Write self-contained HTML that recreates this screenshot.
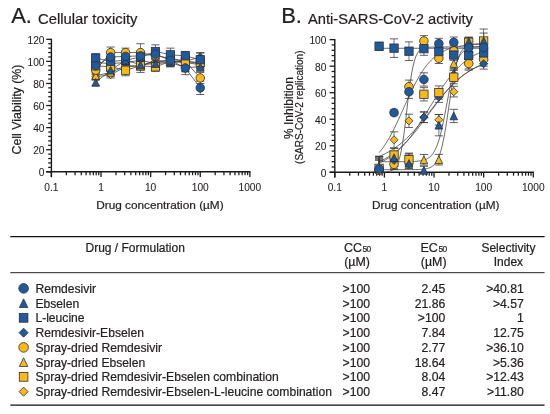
<!DOCTYPE html>
<html><head><meta charset="utf-8"><style>
html,body{margin:0;padding:0;background:#fff;overflow:hidden;width:550px;height:414px;}
svg{display:block;font-family:"Liberation Sans", sans-serif;}
text{-webkit-font-smoothing:antialiased;stroke:#231f20;stroke-width:0.22px;}
body{will-change:transform;}
</style></head><body>
<svg width="550" height="414" viewBox="0 0 550 414">
<rect width="550" height="414" fill="#fff"/>
<line x1="51.40" y1="38.70" x2="51.40" y2="177.10" stroke="#1a1a1a" stroke-width="1.4" />
<line x1="46.20" y1="171.80" x2="250.48" y2="171.80" stroke="#1a1a1a" stroke-width="1.4" />
<line x1="46.20" y1="171.80" x2="51.40" y2="171.80" stroke="#1a1a1a" stroke-width="1.3" />
<text x="44.50" y="176.20" font-size="10.2" text-anchor="end" fill="#231f20" style="stroke-width:0.08px">0</text>
<line x1="48.20" y1="167.38" x2="51.40" y2="167.38" stroke="#1a1a1a" stroke-width="1.25" />
<line x1="48.20" y1="162.97" x2="51.40" y2="162.97" stroke="#1a1a1a" stroke-width="1.25" />
<line x1="48.20" y1="158.55" x2="51.40" y2="158.55" stroke="#1a1a1a" stroke-width="1.25" />
<line x1="48.20" y1="154.13" x2="51.40" y2="154.13" stroke="#1a1a1a" stroke-width="1.25" />
<line x1="46.20" y1="149.72" x2="51.40" y2="149.72" stroke="#1a1a1a" stroke-width="1.3" />
<text x="44.50" y="154.12" font-size="10.2" text-anchor="end" fill="#231f20" style="stroke-width:0.08px">20</text>
<line x1="48.20" y1="145.30" x2="51.40" y2="145.30" stroke="#1a1a1a" stroke-width="1.25" />
<line x1="48.20" y1="140.88" x2="51.40" y2="140.88" stroke="#1a1a1a" stroke-width="1.25" />
<line x1="48.20" y1="136.47" x2="51.40" y2="136.47" stroke="#1a1a1a" stroke-width="1.25" />
<line x1="48.20" y1="132.05" x2="51.40" y2="132.05" stroke="#1a1a1a" stroke-width="1.25" />
<line x1="46.20" y1="127.63" x2="51.40" y2="127.63" stroke="#1a1a1a" stroke-width="1.3" />
<text x="44.50" y="132.03" font-size="10.2" text-anchor="end" fill="#231f20" style="stroke-width:0.08px">40</text>
<line x1="48.20" y1="123.22" x2="51.40" y2="123.22" stroke="#1a1a1a" stroke-width="1.25" />
<line x1="48.20" y1="118.80" x2="51.40" y2="118.80" stroke="#1a1a1a" stroke-width="1.25" />
<line x1="48.20" y1="114.38" x2="51.40" y2="114.38" stroke="#1a1a1a" stroke-width="1.25" />
<line x1="48.20" y1="109.97" x2="51.40" y2="109.97" stroke="#1a1a1a" stroke-width="1.25" />
<line x1="46.20" y1="105.55" x2="51.40" y2="105.55" stroke="#1a1a1a" stroke-width="1.3" />
<text x="44.50" y="109.95" font-size="10.2" text-anchor="end" fill="#231f20" style="stroke-width:0.08px">60</text>
<line x1="48.20" y1="101.13" x2="51.40" y2="101.13" stroke="#1a1a1a" stroke-width="1.25" />
<line x1="48.20" y1="96.72" x2="51.40" y2="96.72" stroke="#1a1a1a" stroke-width="1.25" />
<line x1="48.20" y1="92.30" x2="51.40" y2="92.30" stroke="#1a1a1a" stroke-width="1.25" />
<line x1="48.20" y1="87.88" x2="51.40" y2="87.88" stroke="#1a1a1a" stroke-width="1.25" />
<line x1="46.20" y1="83.47" x2="51.40" y2="83.47" stroke="#1a1a1a" stroke-width="1.3" />
<text x="44.50" y="87.87" font-size="10.2" text-anchor="end" fill="#231f20" style="stroke-width:0.08px">80</text>
<line x1="48.20" y1="79.05" x2="51.40" y2="79.05" stroke="#1a1a1a" stroke-width="1.25" />
<line x1="48.20" y1="74.63" x2="51.40" y2="74.63" stroke="#1a1a1a" stroke-width="1.25" />
<line x1="48.20" y1="70.22" x2="51.40" y2="70.22" stroke="#1a1a1a" stroke-width="1.25" />
<line x1="48.20" y1="65.80" x2="51.40" y2="65.80" stroke="#1a1a1a" stroke-width="1.25" />
<line x1="46.20" y1="61.38" x2="51.40" y2="61.38" stroke="#1a1a1a" stroke-width="1.3" />
<text x="44.50" y="65.78" font-size="10.2" text-anchor="end" fill="#231f20" style="stroke-width:0.08px">100</text>
<line x1="48.20" y1="56.97" x2="51.40" y2="56.97" stroke="#1a1a1a" stroke-width="1.25" />
<line x1="48.20" y1="52.55" x2="51.40" y2="52.55" stroke="#1a1a1a" stroke-width="1.25" />
<line x1="48.20" y1="48.13" x2="51.40" y2="48.13" stroke="#1a1a1a" stroke-width="1.25" />
<line x1="48.20" y1="43.72" x2="51.40" y2="43.72" stroke="#1a1a1a" stroke-width="1.25" />
<line x1="46.20" y1="39.30" x2="51.40" y2="39.30" stroke="#1a1a1a" stroke-width="1.3" />
<text x="44.50" y="43.70" font-size="10.2" text-anchor="end" fill="#231f20" style="stroke-width:0.08px">120</text>
<line x1="51.40" y1="171.80" x2="51.40" y2="177.10" stroke="#1a1a1a" stroke-width="1.3" />
<line x1="66.34" y1="171.80" x2="66.34" y2="175.20" stroke="#1a1a1a" stroke-width="1.25" />
<line x1="75.07" y1="171.80" x2="75.07" y2="175.20" stroke="#1a1a1a" stroke-width="1.25" />
<line x1="81.27" y1="171.80" x2="81.27" y2="175.20" stroke="#1a1a1a" stroke-width="1.25" />
<line x1="86.08" y1="171.80" x2="86.08" y2="175.20" stroke="#1a1a1a" stroke-width="1.25" />
<line x1="90.01" y1="171.80" x2="90.01" y2="175.20" stroke="#1a1a1a" stroke-width="1.25" />
<line x1="93.33" y1="171.80" x2="93.33" y2="175.20" stroke="#1a1a1a" stroke-width="1.25" />
<line x1="96.21" y1="171.80" x2="96.21" y2="175.20" stroke="#1a1a1a" stroke-width="1.25" />
<line x1="98.75" y1="171.80" x2="98.75" y2="175.20" stroke="#1a1a1a" stroke-width="1.25" />
<line x1="101.02" y1="171.80" x2="101.02" y2="177.10" stroke="#1a1a1a" stroke-width="1.3" />
<line x1="115.96" y1="171.80" x2="115.96" y2="175.20" stroke="#1a1a1a" stroke-width="1.25" />
<line x1="124.69" y1="171.80" x2="124.69" y2="175.20" stroke="#1a1a1a" stroke-width="1.25" />
<line x1="130.89" y1="171.80" x2="130.89" y2="175.20" stroke="#1a1a1a" stroke-width="1.25" />
<line x1="135.70" y1="171.80" x2="135.70" y2="175.20" stroke="#1a1a1a" stroke-width="1.25" />
<line x1="139.63" y1="171.80" x2="139.63" y2="175.20" stroke="#1a1a1a" stroke-width="1.25" />
<line x1="142.95" y1="171.80" x2="142.95" y2="175.20" stroke="#1a1a1a" stroke-width="1.25" />
<line x1="145.83" y1="171.80" x2="145.83" y2="175.20" stroke="#1a1a1a" stroke-width="1.25" />
<line x1="148.37" y1="171.80" x2="148.37" y2="175.20" stroke="#1a1a1a" stroke-width="1.25" />
<line x1="150.64" y1="171.80" x2="150.64" y2="177.10" stroke="#1a1a1a" stroke-width="1.3" />
<line x1="165.58" y1="171.80" x2="165.58" y2="175.20" stroke="#1a1a1a" stroke-width="1.25" />
<line x1="174.31" y1="171.80" x2="174.31" y2="175.20" stroke="#1a1a1a" stroke-width="1.25" />
<line x1="180.51" y1="171.80" x2="180.51" y2="175.20" stroke="#1a1a1a" stroke-width="1.25" />
<line x1="185.32" y1="171.80" x2="185.32" y2="175.20" stroke="#1a1a1a" stroke-width="1.25" />
<line x1="189.25" y1="171.80" x2="189.25" y2="175.20" stroke="#1a1a1a" stroke-width="1.25" />
<line x1="192.57" y1="171.80" x2="192.57" y2="175.20" stroke="#1a1a1a" stroke-width="1.25" />
<line x1="195.45" y1="171.80" x2="195.45" y2="175.20" stroke="#1a1a1a" stroke-width="1.25" />
<line x1="197.99" y1="171.80" x2="197.99" y2="175.20" stroke="#1a1a1a" stroke-width="1.25" />
<line x1="200.26" y1="171.80" x2="200.26" y2="177.10" stroke="#1a1a1a" stroke-width="1.3" />
<line x1="215.20" y1="171.80" x2="215.20" y2="175.20" stroke="#1a1a1a" stroke-width="1.25" />
<line x1="223.93" y1="171.80" x2="223.93" y2="175.20" stroke="#1a1a1a" stroke-width="1.25" />
<line x1="230.13" y1="171.80" x2="230.13" y2="175.20" stroke="#1a1a1a" stroke-width="1.25" />
<line x1="234.94" y1="171.80" x2="234.94" y2="175.20" stroke="#1a1a1a" stroke-width="1.25" />
<line x1="238.87" y1="171.80" x2="238.87" y2="175.20" stroke="#1a1a1a" stroke-width="1.25" />
<line x1="242.19" y1="171.80" x2="242.19" y2="175.20" stroke="#1a1a1a" stroke-width="1.25" />
<line x1="245.07" y1="171.80" x2="245.07" y2="175.20" stroke="#1a1a1a" stroke-width="1.25" />
<line x1="247.61" y1="171.80" x2="247.61" y2="175.20" stroke="#1a1a1a" stroke-width="1.25" />
<line x1="249.88" y1="171.80" x2="249.88" y2="177.10" stroke="#1a1a1a" stroke-width="1.3" />
<text x="51.40" y="190.80" font-size="10.2" text-anchor="middle" fill="#231f20" style="stroke-width:0.08px">0.1</text>
<text x="101.02" y="190.80" font-size="10.2" text-anchor="middle" fill="#231f20" style="stroke-width:0.08px">1</text>
<text x="150.64" y="190.80" font-size="10.2" text-anchor="middle" fill="#231f20" style="stroke-width:0.08px">10</text>
<text x="200.26" y="190.80" font-size="10.2" text-anchor="middle" fill="#231f20" style="stroke-width:0.08px">100</text>
<text x="249.88" y="190.80" font-size="10.2" text-anchor="middle" fill="#231f20" style="stroke-width:0.08px">1000</text>
<text x="11.20" y="23.40" font-size="22" text-anchor="start" fill="#231f20" >A.</text>
<text x="38.00" y="23.90" font-size="14.8" text-anchor="start" fill="#231f20" >Cellular toxicity</text>
<text x="96.20" y="208.60" font-size="11.8" text-anchor="start" fill="#231f20" >Drug concentration (µM)</text>
<text transform="translate(21.3,109.5) rotate(-90)" font-size="12.4" text-anchor="middle" fill="#231f20">Cell Viability (%)</text>
<line x1="334.80" y1="39.05" x2="334.80" y2="177.60" stroke="#1a1a1a" stroke-width="1.4" />
<line x1="329.60" y1="172.30" x2="533.88" y2="172.30" stroke="#1a1a1a" stroke-width="1.4" />
<line x1="329.60" y1="172.30" x2="334.80" y2="172.30" stroke="#1a1a1a" stroke-width="1.3" />
<text x="326.40" y="176.70" font-size="10.2" text-anchor="end" fill="#231f20" style="stroke-width:0.08px">0</text>
<line x1="331.60" y1="166.99" x2="334.80" y2="166.99" stroke="#1a1a1a" stroke-width="1.25" />
<line x1="331.60" y1="161.69" x2="334.80" y2="161.69" stroke="#1a1a1a" stroke-width="1.25" />
<line x1="331.60" y1="156.38" x2="334.80" y2="156.38" stroke="#1a1a1a" stroke-width="1.25" />
<line x1="331.60" y1="151.08" x2="334.80" y2="151.08" stroke="#1a1a1a" stroke-width="1.25" />
<line x1="329.60" y1="145.77" x2="334.80" y2="145.77" stroke="#1a1a1a" stroke-width="1.3" />
<text x="326.40" y="150.17" font-size="10.2" text-anchor="end" fill="#231f20" style="stroke-width:0.08px">20</text>
<line x1="331.60" y1="140.46" x2="334.80" y2="140.46" stroke="#1a1a1a" stroke-width="1.25" />
<line x1="331.60" y1="135.16" x2="334.80" y2="135.16" stroke="#1a1a1a" stroke-width="1.25" />
<line x1="331.60" y1="129.85" x2="334.80" y2="129.85" stroke="#1a1a1a" stroke-width="1.25" />
<line x1="331.60" y1="124.55" x2="334.80" y2="124.55" stroke="#1a1a1a" stroke-width="1.25" />
<line x1="329.60" y1="119.24" x2="334.80" y2="119.24" stroke="#1a1a1a" stroke-width="1.3" />
<text x="326.40" y="123.64" font-size="10.2" text-anchor="end" fill="#231f20" style="stroke-width:0.08px">40</text>
<line x1="331.60" y1="113.93" x2="334.80" y2="113.93" stroke="#1a1a1a" stroke-width="1.25" />
<line x1="331.60" y1="108.63" x2="334.80" y2="108.63" stroke="#1a1a1a" stroke-width="1.25" />
<line x1="331.60" y1="103.32" x2="334.80" y2="103.32" stroke="#1a1a1a" stroke-width="1.25" />
<line x1="331.60" y1="98.02" x2="334.80" y2="98.02" stroke="#1a1a1a" stroke-width="1.25" />
<line x1="329.60" y1="92.71" x2="334.80" y2="92.71" stroke="#1a1a1a" stroke-width="1.3" />
<text x="326.40" y="97.11" font-size="10.2" text-anchor="end" fill="#231f20" style="stroke-width:0.08px">60</text>
<line x1="331.60" y1="87.40" x2="334.80" y2="87.40" stroke="#1a1a1a" stroke-width="1.25" />
<line x1="331.60" y1="82.10" x2="334.80" y2="82.10" stroke="#1a1a1a" stroke-width="1.25" />
<line x1="331.60" y1="76.79" x2="334.80" y2="76.79" stroke="#1a1a1a" stroke-width="1.25" />
<line x1="331.60" y1="71.49" x2="334.80" y2="71.49" stroke="#1a1a1a" stroke-width="1.25" />
<line x1="329.60" y1="66.18" x2="334.80" y2="66.18" stroke="#1a1a1a" stroke-width="1.3" />
<text x="326.40" y="70.58" font-size="10.2" text-anchor="end" fill="#231f20" style="stroke-width:0.08px">80</text>
<line x1="331.60" y1="60.87" x2="334.80" y2="60.87" stroke="#1a1a1a" stroke-width="1.25" />
<line x1="331.60" y1="55.57" x2="334.80" y2="55.57" stroke="#1a1a1a" stroke-width="1.25" />
<line x1="331.60" y1="50.26" x2="334.80" y2="50.26" stroke="#1a1a1a" stroke-width="1.25" />
<line x1="331.60" y1="44.96" x2="334.80" y2="44.96" stroke="#1a1a1a" stroke-width="1.25" />
<line x1="329.60" y1="39.65" x2="334.80" y2="39.65" stroke="#1a1a1a" stroke-width="1.3" />
<text x="326.40" y="44.05" font-size="10.2" text-anchor="end" fill="#231f20" style="stroke-width:0.08px">100</text>
<line x1="334.80" y1="172.30" x2="334.80" y2="177.60" stroke="#1a1a1a" stroke-width="1.3" />
<line x1="349.74" y1="172.30" x2="349.74" y2="175.70" stroke="#1a1a1a" stroke-width="1.25" />
<line x1="358.47" y1="172.30" x2="358.47" y2="175.70" stroke="#1a1a1a" stroke-width="1.25" />
<line x1="364.67" y1="172.30" x2="364.67" y2="175.70" stroke="#1a1a1a" stroke-width="1.25" />
<line x1="369.48" y1="172.30" x2="369.48" y2="175.70" stroke="#1a1a1a" stroke-width="1.25" />
<line x1="373.41" y1="172.30" x2="373.41" y2="175.70" stroke="#1a1a1a" stroke-width="1.25" />
<line x1="376.73" y1="172.30" x2="376.73" y2="175.70" stroke="#1a1a1a" stroke-width="1.25" />
<line x1="379.61" y1="172.30" x2="379.61" y2="175.70" stroke="#1a1a1a" stroke-width="1.25" />
<line x1="382.15" y1="172.30" x2="382.15" y2="175.70" stroke="#1a1a1a" stroke-width="1.25" />
<line x1="384.42" y1="172.30" x2="384.42" y2="177.60" stroke="#1a1a1a" stroke-width="1.3" />
<line x1="399.36" y1="172.30" x2="399.36" y2="175.70" stroke="#1a1a1a" stroke-width="1.25" />
<line x1="408.09" y1="172.30" x2="408.09" y2="175.70" stroke="#1a1a1a" stroke-width="1.25" />
<line x1="414.29" y1="172.30" x2="414.29" y2="175.70" stroke="#1a1a1a" stroke-width="1.25" />
<line x1="419.10" y1="172.30" x2="419.10" y2="175.70" stroke="#1a1a1a" stroke-width="1.25" />
<line x1="423.03" y1="172.30" x2="423.03" y2="175.70" stroke="#1a1a1a" stroke-width="1.25" />
<line x1="426.35" y1="172.30" x2="426.35" y2="175.70" stroke="#1a1a1a" stroke-width="1.25" />
<line x1="429.23" y1="172.30" x2="429.23" y2="175.70" stroke="#1a1a1a" stroke-width="1.25" />
<line x1="431.77" y1="172.30" x2="431.77" y2="175.70" stroke="#1a1a1a" stroke-width="1.25" />
<line x1="434.04" y1="172.30" x2="434.04" y2="177.60" stroke="#1a1a1a" stroke-width="1.3" />
<line x1="448.98" y1="172.30" x2="448.98" y2="175.70" stroke="#1a1a1a" stroke-width="1.25" />
<line x1="457.71" y1="172.30" x2="457.71" y2="175.70" stroke="#1a1a1a" stroke-width="1.25" />
<line x1="463.91" y1="172.30" x2="463.91" y2="175.70" stroke="#1a1a1a" stroke-width="1.25" />
<line x1="468.72" y1="172.30" x2="468.72" y2="175.70" stroke="#1a1a1a" stroke-width="1.25" />
<line x1="472.65" y1="172.30" x2="472.65" y2="175.70" stroke="#1a1a1a" stroke-width="1.25" />
<line x1="475.97" y1="172.30" x2="475.97" y2="175.70" stroke="#1a1a1a" stroke-width="1.25" />
<line x1="478.85" y1="172.30" x2="478.85" y2="175.70" stroke="#1a1a1a" stroke-width="1.25" />
<line x1="481.39" y1="172.30" x2="481.39" y2="175.70" stroke="#1a1a1a" stroke-width="1.25" />
<line x1="483.66" y1="172.30" x2="483.66" y2="177.60" stroke="#1a1a1a" stroke-width="1.3" />
<line x1="498.60" y1="172.30" x2="498.60" y2="175.70" stroke="#1a1a1a" stroke-width="1.25" />
<line x1="507.33" y1="172.30" x2="507.33" y2="175.70" stroke="#1a1a1a" stroke-width="1.25" />
<line x1="513.53" y1="172.30" x2="513.53" y2="175.70" stroke="#1a1a1a" stroke-width="1.25" />
<line x1="518.34" y1="172.30" x2="518.34" y2="175.70" stroke="#1a1a1a" stroke-width="1.25" />
<line x1="522.27" y1="172.30" x2="522.27" y2="175.70" stroke="#1a1a1a" stroke-width="1.25" />
<line x1="525.59" y1="172.30" x2="525.59" y2="175.70" stroke="#1a1a1a" stroke-width="1.25" />
<line x1="528.47" y1="172.30" x2="528.47" y2="175.70" stroke="#1a1a1a" stroke-width="1.25" />
<line x1="531.01" y1="172.30" x2="531.01" y2="175.70" stroke="#1a1a1a" stroke-width="1.25" />
<line x1="533.28" y1="172.30" x2="533.28" y2="177.60" stroke="#1a1a1a" stroke-width="1.3" />
<text x="334.80" y="190.80" font-size="10.2" text-anchor="middle" fill="#231f20" style="stroke-width:0.08px">0.1</text>
<text x="384.42" y="190.80" font-size="10.2" text-anchor="middle" fill="#231f20" style="stroke-width:0.08px">1</text>
<text x="434.04" y="190.80" font-size="10.2" text-anchor="middle" fill="#231f20" style="stroke-width:0.08px">10</text>
<text x="483.66" y="190.80" font-size="10.2" text-anchor="middle" fill="#231f20" style="stroke-width:0.08px">100</text>
<text x="533.28" y="190.80" font-size="10.2" text-anchor="middle" fill="#231f20" style="stroke-width:0.08px">1000</text>
<text x="281.20" y="23.40" font-size="22" text-anchor="start" fill="#231f20" >B.</text>
<text x="308.00" y="23.90" font-size="14.7" text-anchor="start" fill="#231f20" >Anti-SARS-CoV-2 activity</text>
<text x="372.00" y="208.60" font-size="11.8" text-anchor="start" fill="#231f20" >Drug concentration (µM)</text>
<text transform="translate(292.6,108.1) rotate(-90)" font-size="12" text-anchor="middle" fill="#231f20">% Inhibition</text>
<text transform="translate(302.6,107.2) rotate(-90)" font-size="10" text-anchor="middle" fill="#231f20">(SARS-CoV-2 replication)</text>
<polyline points="95.70,76.84 110.64,74.63 125.57,66.90 140.51,65.80 155.45,61.38 170.39,62.49 185.32,61.38 200.26,63.59" fill="none" stroke="#3a3a3a" stroke-width="0.75"/>
<polyline points="95.70,75.74 110.64,72.43 125.57,65.80 140.51,65.80 155.45,60.28 170.39,61.38 185.32,62.49 200.26,64.70" fill="none" stroke="#3a3a3a" stroke-width="0.75"/>
<polyline points="95.70,70.22 110.64,52.55 125.57,52.55 140.51,52.55 155.45,55.86 170.39,58.07 185.32,61.38 200.26,77.95" fill="none" stroke="#3a3a3a" stroke-width="0.75"/>
<polyline points="95.70,62.49 110.64,63.59 125.57,62.49 140.51,60.28 155.45,63.59 170.39,59.17 185.32,61.38 200.26,56.97" fill="none" stroke="#3a3a3a" stroke-width="0.75"/>
<polyline points="95.70,65.80 110.64,66.90 125.57,70.22 140.51,65.80 155.45,66.90 170.39,61.38 185.32,61.38 200.26,62.49" fill="none" stroke="#3a3a3a" stroke-width="0.75"/>
<polyline points="95.70,58.07 110.64,61.38 125.57,60.28 140.51,56.97 155.45,51.45 170.39,54.76 185.32,55.86 200.26,59.73" fill="none" stroke="#3a3a3a" stroke-width="0.75"/>
<polyline points="95.70,82.36 110.64,70.22 125.57,60.28 140.51,64.70 155.45,63.59 170.39,62.49 185.32,67.46 200.26,66.90" fill="none" stroke="#3a3a3a" stroke-width="0.75"/>
<polyline points="95.70,65.80 110.64,56.97 125.57,56.41 140.51,55.86 155.45,54.21 170.39,60.28 185.32,68.01 200.26,87.88" fill="none" stroke="#3a3a3a" stroke-width="0.75"/>
<line x1="95.70" y1="73.53" x2="95.70" y2="80.15" stroke="#3a3a3a" stroke-width="0.7" />
<line x1="91.60" y1="73.53" x2="99.80" y2="73.53" stroke="#3a3a3a" stroke-width="0.8" />
<line x1="91.60" y1="80.15" x2="99.80" y2="80.15" stroke="#3a3a3a" stroke-width="0.8" />
<line x1="110.64" y1="71.32" x2="110.64" y2="77.95" stroke="#3a3a3a" stroke-width="0.7" />
<line x1="106.54" y1="71.32" x2="114.74" y2="71.32" stroke="#3a3a3a" stroke-width="0.8" />
<line x1="106.54" y1="77.95" x2="114.74" y2="77.95" stroke="#3a3a3a" stroke-width="0.8" />
<line x1="125.57" y1="63.59" x2="125.57" y2="70.22" stroke="#3a3a3a" stroke-width="0.7" />
<line x1="121.47" y1="63.59" x2="129.67" y2="63.59" stroke="#3a3a3a" stroke-width="0.8" />
<line x1="121.47" y1="70.22" x2="129.67" y2="70.22" stroke="#3a3a3a" stroke-width="0.8" />
<line x1="140.51" y1="62.49" x2="140.51" y2="69.11" stroke="#3a3a3a" stroke-width="0.7" />
<line x1="136.41" y1="62.49" x2="144.61" y2="62.49" stroke="#3a3a3a" stroke-width="0.8" />
<line x1="136.41" y1="69.11" x2="144.61" y2="69.11" stroke="#3a3a3a" stroke-width="0.8" />
<line x1="155.45" y1="58.07" x2="155.45" y2="64.70" stroke="#3a3a3a" stroke-width="0.7" />
<line x1="151.35" y1="58.07" x2="159.55" y2="58.07" stroke="#3a3a3a" stroke-width="0.8" />
<line x1="151.35" y1="64.70" x2="159.55" y2="64.70" stroke="#3a3a3a" stroke-width="0.8" />
<line x1="170.39" y1="59.17" x2="170.39" y2="65.80" stroke="#3a3a3a" stroke-width="0.7" />
<line x1="166.29" y1="59.17" x2="174.49" y2="59.17" stroke="#3a3a3a" stroke-width="0.8" />
<line x1="166.29" y1="65.80" x2="174.49" y2="65.80" stroke="#3a3a3a" stroke-width="0.8" />
<line x1="185.32" y1="58.07" x2="185.32" y2="64.70" stroke="#3a3a3a" stroke-width="0.7" />
<line x1="181.22" y1="58.07" x2="189.42" y2="58.07" stroke="#3a3a3a" stroke-width="0.8" />
<line x1="181.22" y1="64.70" x2="189.42" y2="64.70" stroke="#3a3a3a" stroke-width="0.8" />
<line x1="200.26" y1="60.28" x2="200.26" y2="66.90" stroke="#3a3a3a" stroke-width="0.7" />
<line x1="196.16" y1="60.28" x2="204.36" y2="60.28" stroke="#3a3a3a" stroke-width="0.8" />
<line x1="196.16" y1="66.90" x2="204.36" y2="66.90" stroke="#3a3a3a" stroke-width="0.8" />
<line x1="95.70" y1="72.43" x2="95.70" y2="79.05" stroke="#3a3a3a" stroke-width="0.7" />
<line x1="91.60" y1="72.43" x2="99.80" y2="72.43" stroke="#3a3a3a" stroke-width="0.8" />
<line x1="91.60" y1="79.05" x2="99.80" y2="79.05" stroke="#3a3a3a" stroke-width="0.8" />
<line x1="110.64" y1="69.11" x2="110.64" y2="75.74" stroke="#3a3a3a" stroke-width="0.7" />
<line x1="106.54" y1="69.11" x2="114.74" y2="69.11" stroke="#3a3a3a" stroke-width="0.8" />
<line x1="106.54" y1="75.74" x2="114.74" y2="75.74" stroke="#3a3a3a" stroke-width="0.8" />
<line x1="125.57" y1="61.38" x2="125.57" y2="70.22" stroke="#3a3a3a" stroke-width="0.7" />
<line x1="121.47" y1="61.38" x2="129.67" y2="61.38" stroke="#3a3a3a" stroke-width="0.8" />
<line x1="121.47" y1="70.22" x2="129.67" y2="70.22" stroke="#3a3a3a" stroke-width="0.8" />
<line x1="140.51" y1="61.38" x2="140.51" y2="70.22" stroke="#3a3a3a" stroke-width="0.7" />
<line x1="136.41" y1="61.38" x2="144.61" y2="61.38" stroke="#3a3a3a" stroke-width="0.8" />
<line x1="136.41" y1="70.22" x2="144.61" y2="70.22" stroke="#3a3a3a" stroke-width="0.8" />
<line x1="155.45" y1="55.86" x2="155.45" y2="64.70" stroke="#3a3a3a" stroke-width="0.7" />
<line x1="151.35" y1="55.86" x2="159.55" y2="55.86" stroke="#3a3a3a" stroke-width="0.8" />
<line x1="151.35" y1="64.70" x2="159.55" y2="64.70" stroke="#3a3a3a" stroke-width="0.8" />
<line x1="170.39" y1="56.97" x2="170.39" y2="65.80" stroke="#3a3a3a" stroke-width="0.7" />
<line x1="166.29" y1="56.97" x2="174.49" y2="56.97" stroke="#3a3a3a" stroke-width="0.8" />
<line x1="166.29" y1="65.80" x2="174.49" y2="65.80" stroke="#3a3a3a" stroke-width="0.8" />
<line x1="185.32" y1="58.07" x2="185.32" y2="66.90" stroke="#3a3a3a" stroke-width="0.7" />
<line x1="181.22" y1="58.07" x2="189.42" y2="58.07" stroke="#3a3a3a" stroke-width="0.8" />
<line x1="181.22" y1="66.90" x2="189.42" y2="66.90" stroke="#3a3a3a" stroke-width="0.8" />
<line x1="200.26" y1="60.28" x2="200.26" y2="69.11" stroke="#3a3a3a" stroke-width="0.7" />
<line x1="196.16" y1="60.28" x2="204.36" y2="60.28" stroke="#3a3a3a" stroke-width="0.8" />
<line x1="196.16" y1="69.11" x2="204.36" y2="69.11" stroke="#3a3a3a" stroke-width="0.8" />
<line x1="95.70" y1="65.80" x2="95.70" y2="74.63" stroke="#3a3a3a" stroke-width="0.7" />
<line x1="91.60" y1="65.80" x2="99.80" y2="65.80" stroke="#3a3a3a" stroke-width="0.8" />
<line x1="91.60" y1="74.63" x2="99.80" y2="74.63" stroke="#3a3a3a" stroke-width="0.8" />
<line x1="110.64" y1="47.03" x2="110.64" y2="58.07" stroke="#3a3a3a" stroke-width="0.7" />
<line x1="106.54" y1="47.03" x2="114.74" y2="47.03" stroke="#3a3a3a" stroke-width="0.8" />
<line x1="106.54" y1="58.07" x2="114.74" y2="58.07" stroke="#3a3a3a" stroke-width="0.8" />
<line x1="125.57" y1="48.13" x2="125.57" y2="56.97" stroke="#3a3a3a" stroke-width="0.7" />
<line x1="121.47" y1="48.13" x2="129.67" y2="48.13" stroke="#3a3a3a" stroke-width="0.8" />
<line x1="121.47" y1="56.97" x2="129.67" y2="56.97" stroke="#3a3a3a" stroke-width="0.8" />
<line x1="140.51" y1="43.72" x2="140.51" y2="61.38" stroke="#3a3a3a" stroke-width="0.7" />
<line x1="136.41" y1="43.72" x2="144.61" y2="43.72" stroke="#3a3a3a" stroke-width="0.8" />
<line x1="136.41" y1="61.38" x2="144.61" y2="61.38" stroke="#3a3a3a" stroke-width="0.8" />
<line x1="155.45" y1="50.34" x2="155.45" y2="61.38" stroke="#3a3a3a" stroke-width="0.7" />
<line x1="151.35" y1="50.34" x2="159.55" y2="50.34" stroke="#3a3a3a" stroke-width="0.8" />
<line x1="151.35" y1="61.38" x2="159.55" y2="61.38" stroke="#3a3a3a" stroke-width="0.8" />
<line x1="170.39" y1="52.55" x2="170.39" y2="63.59" stroke="#3a3a3a" stroke-width="0.7" />
<line x1="166.29" y1="52.55" x2="174.49" y2="52.55" stroke="#3a3a3a" stroke-width="0.8" />
<line x1="166.29" y1="63.59" x2="174.49" y2="63.59" stroke="#3a3a3a" stroke-width="0.8" />
<line x1="185.32" y1="56.97" x2="185.32" y2="65.80" stroke="#3a3a3a" stroke-width="0.7" />
<line x1="181.22" y1="56.97" x2="189.42" y2="56.97" stroke="#3a3a3a" stroke-width="0.8" />
<line x1="181.22" y1="65.80" x2="189.42" y2="65.80" stroke="#3a3a3a" stroke-width="0.8" />
<line x1="200.26" y1="72.43" x2="200.26" y2="83.47" stroke="#3a3a3a" stroke-width="0.7" />
<line x1="196.16" y1="72.43" x2="204.36" y2="72.43" stroke="#3a3a3a" stroke-width="0.8" />
<line x1="196.16" y1="83.47" x2="204.36" y2="83.47" stroke="#3a3a3a" stroke-width="0.8" />
<line x1="95.70" y1="59.17" x2="95.70" y2="65.80" stroke="#3a3a3a" stroke-width="0.7" />
<line x1="91.60" y1="59.17" x2="99.80" y2="59.17" stroke="#3a3a3a" stroke-width="0.8" />
<line x1="91.60" y1="65.80" x2="99.80" y2="65.80" stroke="#3a3a3a" stroke-width="0.8" />
<line x1="110.64" y1="60.28" x2="110.64" y2="66.90" stroke="#3a3a3a" stroke-width="0.7" />
<line x1="106.54" y1="60.28" x2="114.74" y2="60.28" stroke="#3a3a3a" stroke-width="0.8" />
<line x1="106.54" y1="66.90" x2="114.74" y2="66.90" stroke="#3a3a3a" stroke-width="0.8" />
<line x1="125.57" y1="59.17" x2="125.57" y2="65.80" stroke="#3a3a3a" stroke-width="0.7" />
<line x1="121.47" y1="59.17" x2="129.67" y2="59.17" stroke="#3a3a3a" stroke-width="0.8" />
<line x1="121.47" y1="65.80" x2="129.67" y2="65.80" stroke="#3a3a3a" stroke-width="0.8" />
<line x1="140.51" y1="55.86" x2="140.51" y2="64.70" stroke="#3a3a3a" stroke-width="0.7" />
<line x1="136.41" y1="55.86" x2="144.61" y2="55.86" stroke="#3a3a3a" stroke-width="0.8" />
<line x1="136.41" y1="64.70" x2="144.61" y2="64.70" stroke="#3a3a3a" stroke-width="0.8" />
<line x1="155.45" y1="59.18" x2="155.45" y2="68.01" stroke="#3a3a3a" stroke-width="0.7" />
<line x1="151.35" y1="59.18" x2="159.55" y2="59.18" stroke="#3a3a3a" stroke-width="0.8" />
<line x1="151.35" y1="68.01" x2="159.55" y2="68.01" stroke="#3a3a3a" stroke-width="0.8" />
<line x1="170.39" y1="54.76" x2="170.39" y2="63.59" stroke="#3a3a3a" stroke-width="0.7" />
<line x1="166.29" y1="54.76" x2="174.49" y2="54.76" stroke="#3a3a3a" stroke-width="0.8" />
<line x1="166.29" y1="63.59" x2="174.49" y2="63.59" stroke="#3a3a3a" stroke-width="0.8" />
<line x1="185.32" y1="56.97" x2="185.32" y2="65.80" stroke="#3a3a3a" stroke-width="0.7" />
<line x1="181.22" y1="56.97" x2="189.42" y2="56.97" stroke="#3a3a3a" stroke-width="0.8" />
<line x1="181.22" y1="65.80" x2="189.42" y2="65.80" stroke="#3a3a3a" stroke-width="0.8" />
<line x1="200.26" y1="52.55" x2="200.26" y2="61.38" stroke="#3a3a3a" stroke-width="0.7" />
<line x1="196.16" y1="52.55" x2="204.36" y2="52.55" stroke="#3a3a3a" stroke-width="0.8" />
<line x1="196.16" y1="61.38" x2="204.36" y2="61.38" stroke="#3a3a3a" stroke-width="0.8" />
<line x1="95.70" y1="61.38" x2="95.70" y2="70.22" stroke="#3a3a3a" stroke-width="0.7" />
<line x1="91.60" y1="61.38" x2="99.80" y2="61.38" stroke="#3a3a3a" stroke-width="0.8" />
<line x1="91.60" y1="70.22" x2="99.80" y2="70.22" stroke="#3a3a3a" stroke-width="0.8" />
<line x1="110.64" y1="62.49" x2="110.64" y2="71.32" stroke="#3a3a3a" stroke-width="0.7" />
<line x1="106.54" y1="62.49" x2="114.74" y2="62.49" stroke="#3a3a3a" stroke-width="0.8" />
<line x1="106.54" y1="71.32" x2="114.74" y2="71.32" stroke="#3a3a3a" stroke-width="0.8" />
<line x1="125.57" y1="64.70" x2="125.57" y2="75.74" stroke="#3a3a3a" stroke-width="0.7" />
<line x1="121.47" y1="64.70" x2="129.67" y2="64.70" stroke="#3a3a3a" stroke-width="0.8" />
<line x1="121.47" y1="75.74" x2="129.67" y2="75.74" stroke="#3a3a3a" stroke-width="0.8" />
<line x1="140.51" y1="59.18" x2="140.51" y2="72.43" stroke="#3a3a3a" stroke-width="0.7" />
<line x1="136.41" y1="59.18" x2="144.61" y2="59.18" stroke="#3a3a3a" stroke-width="0.8" />
<line x1="136.41" y1="72.43" x2="144.61" y2="72.43" stroke="#3a3a3a" stroke-width="0.8" />
<line x1="155.45" y1="62.49" x2="155.45" y2="71.32" stroke="#3a3a3a" stroke-width="0.7" />
<line x1="151.35" y1="62.49" x2="159.55" y2="62.49" stroke="#3a3a3a" stroke-width="0.8" />
<line x1="151.35" y1="71.32" x2="159.55" y2="71.32" stroke="#3a3a3a" stroke-width="0.8" />
<line x1="170.39" y1="56.97" x2="170.39" y2="65.80" stroke="#3a3a3a" stroke-width="0.7" />
<line x1="166.29" y1="56.97" x2="174.49" y2="56.97" stroke="#3a3a3a" stroke-width="0.8" />
<line x1="166.29" y1="65.80" x2="174.49" y2="65.80" stroke="#3a3a3a" stroke-width="0.8" />
<line x1="185.32" y1="56.97" x2="185.32" y2="65.80" stroke="#3a3a3a" stroke-width="0.7" />
<line x1="181.22" y1="56.97" x2="189.42" y2="56.97" stroke="#3a3a3a" stroke-width="0.8" />
<line x1="181.22" y1="65.80" x2="189.42" y2="65.80" stroke="#3a3a3a" stroke-width="0.8" />
<line x1="200.26" y1="58.07" x2="200.26" y2="66.90" stroke="#3a3a3a" stroke-width="0.7" />
<line x1="196.16" y1="58.07" x2="204.36" y2="58.07" stroke="#3a3a3a" stroke-width="0.8" />
<line x1="196.16" y1="66.90" x2="204.36" y2="66.90" stroke="#3a3a3a" stroke-width="0.8" />
<line x1="95.70" y1="53.65" x2="95.70" y2="62.49" stroke="#3a3a3a" stroke-width="0.7" />
<line x1="91.60" y1="53.65" x2="99.80" y2="53.65" stroke="#3a3a3a" stroke-width="0.8" />
<line x1="91.60" y1="62.49" x2="99.80" y2="62.49" stroke="#3a3a3a" stroke-width="0.8" />
<line x1="110.64" y1="56.97" x2="110.64" y2="65.80" stroke="#3a3a3a" stroke-width="0.7" />
<line x1="106.54" y1="56.97" x2="114.74" y2="56.97" stroke="#3a3a3a" stroke-width="0.8" />
<line x1="106.54" y1="65.80" x2="114.74" y2="65.80" stroke="#3a3a3a" stroke-width="0.8" />
<line x1="125.57" y1="55.86" x2="125.57" y2="64.70" stroke="#3a3a3a" stroke-width="0.7" />
<line x1="121.47" y1="55.86" x2="129.67" y2="55.86" stroke="#3a3a3a" stroke-width="0.8" />
<line x1="121.47" y1="64.70" x2="129.67" y2="64.70" stroke="#3a3a3a" stroke-width="0.8" />
<line x1="140.51" y1="51.45" x2="140.51" y2="62.49" stroke="#3a3a3a" stroke-width="0.7" />
<line x1="136.41" y1="51.45" x2="144.61" y2="51.45" stroke="#3a3a3a" stroke-width="0.8" />
<line x1="136.41" y1="62.49" x2="144.61" y2="62.49" stroke="#3a3a3a" stroke-width="0.8" />
<line x1="155.45" y1="44.82" x2="155.45" y2="58.07" stroke="#3a3a3a" stroke-width="0.7" />
<line x1="151.35" y1="44.82" x2="159.55" y2="44.82" stroke="#3a3a3a" stroke-width="0.8" />
<line x1="151.35" y1="58.07" x2="159.55" y2="58.07" stroke="#3a3a3a" stroke-width="0.8" />
<line x1="170.39" y1="48.13" x2="170.39" y2="61.38" stroke="#3a3a3a" stroke-width="0.7" />
<line x1="166.29" y1="48.13" x2="174.49" y2="48.13" stroke="#3a3a3a" stroke-width="0.8" />
<line x1="166.29" y1="61.38" x2="174.49" y2="61.38" stroke="#3a3a3a" stroke-width="0.8" />
<line x1="185.32" y1="51.45" x2="185.32" y2="60.28" stroke="#3a3a3a" stroke-width="0.7" />
<line x1="181.22" y1="51.45" x2="189.42" y2="51.45" stroke="#3a3a3a" stroke-width="0.8" />
<line x1="181.22" y1="60.28" x2="189.42" y2="60.28" stroke="#3a3a3a" stroke-width="0.8" />
<line x1="200.26" y1="53.10" x2="200.26" y2="66.35" stroke="#3a3a3a" stroke-width="0.7" />
<line x1="196.16" y1="53.10" x2="204.36" y2="53.10" stroke="#3a3a3a" stroke-width="0.8" />
<line x1="196.16" y1="66.35" x2="204.36" y2="66.35" stroke="#3a3a3a" stroke-width="0.8" />
<line x1="95.70" y1="79.05" x2="95.70" y2="85.68" stroke="#3a3a3a" stroke-width="0.7" />
<line x1="91.60" y1="79.05" x2="99.80" y2="79.05" stroke="#3a3a3a" stroke-width="0.8" />
<line x1="91.60" y1="85.68" x2="99.80" y2="85.68" stroke="#3a3a3a" stroke-width="0.8" />
<line x1="110.64" y1="65.80" x2="110.64" y2="74.63" stroke="#3a3a3a" stroke-width="0.7" />
<line x1="106.54" y1="65.80" x2="114.74" y2="65.80" stroke="#3a3a3a" stroke-width="0.8" />
<line x1="106.54" y1="74.63" x2="114.74" y2="74.63" stroke="#3a3a3a" stroke-width="0.8" />
<line x1="125.57" y1="55.86" x2="125.57" y2="64.70" stroke="#3a3a3a" stroke-width="0.7" />
<line x1="121.47" y1="55.86" x2="129.67" y2="55.86" stroke="#3a3a3a" stroke-width="0.8" />
<line x1="121.47" y1="64.70" x2="129.67" y2="64.70" stroke="#3a3a3a" stroke-width="0.8" />
<line x1="140.51" y1="60.28" x2="140.51" y2="69.11" stroke="#3a3a3a" stroke-width="0.7" />
<line x1="136.41" y1="60.28" x2="144.61" y2="60.28" stroke="#3a3a3a" stroke-width="0.8" />
<line x1="136.41" y1="69.11" x2="144.61" y2="69.11" stroke="#3a3a3a" stroke-width="0.8" />
<line x1="155.45" y1="59.18" x2="155.45" y2="68.01" stroke="#3a3a3a" stroke-width="0.7" />
<line x1="151.35" y1="59.18" x2="159.55" y2="59.18" stroke="#3a3a3a" stroke-width="0.8" />
<line x1="151.35" y1="68.01" x2="159.55" y2="68.01" stroke="#3a3a3a" stroke-width="0.8" />
<line x1="170.39" y1="58.07" x2="170.39" y2="66.90" stroke="#3a3a3a" stroke-width="0.7" />
<line x1="166.29" y1="58.07" x2="174.49" y2="58.07" stroke="#3a3a3a" stroke-width="0.8" />
<line x1="166.29" y1="66.90" x2="174.49" y2="66.90" stroke="#3a3a3a" stroke-width="0.8" />
<line x1="185.32" y1="63.04" x2="185.32" y2="71.87" stroke="#3a3a3a" stroke-width="0.7" />
<line x1="181.22" y1="63.04" x2="189.42" y2="63.04" stroke="#3a3a3a" stroke-width="0.8" />
<line x1="181.22" y1="71.87" x2="189.42" y2="71.87" stroke="#3a3a3a" stroke-width="0.8" />
<line x1="200.26" y1="62.49" x2="200.26" y2="71.32" stroke="#3a3a3a" stroke-width="0.7" />
<line x1="196.16" y1="62.49" x2="204.36" y2="62.49" stroke="#3a3a3a" stroke-width="0.8" />
<line x1="196.16" y1="71.32" x2="204.36" y2="71.32" stroke="#3a3a3a" stroke-width="0.8" />
<line x1="95.70" y1="62.49" x2="95.70" y2="69.11" stroke="#3a3a3a" stroke-width="0.7" />
<line x1="91.60" y1="62.49" x2="99.80" y2="62.49" stroke="#3a3a3a" stroke-width="0.8" />
<line x1="91.60" y1="69.11" x2="99.80" y2="69.11" stroke="#3a3a3a" stroke-width="0.8" />
<line x1="110.64" y1="52.55" x2="110.64" y2="61.38" stroke="#3a3a3a" stroke-width="0.7" />
<line x1="106.54" y1="52.55" x2="114.74" y2="52.55" stroke="#3a3a3a" stroke-width="0.8" />
<line x1="106.54" y1="61.38" x2="114.74" y2="61.38" stroke="#3a3a3a" stroke-width="0.8" />
<line x1="125.57" y1="52.00" x2="125.57" y2="60.83" stroke="#3a3a3a" stroke-width="0.7" />
<line x1="121.47" y1="52.00" x2="129.67" y2="52.00" stroke="#3a3a3a" stroke-width="0.8" />
<line x1="121.47" y1="60.83" x2="129.67" y2="60.83" stroke="#3a3a3a" stroke-width="0.8" />
<line x1="140.51" y1="51.45" x2="140.51" y2="60.28" stroke="#3a3a3a" stroke-width="0.7" />
<line x1="136.41" y1="51.45" x2="144.61" y2="51.45" stroke="#3a3a3a" stroke-width="0.8" />
<line x1="136.41" y1="60.28" x2="144.61" y2="60.28" stroke="#3a3a3a" stroke-width="0.8" />
<line x1="155.45" y1="49.79" x2="155.45" y2="58.62" stroke="#3a3a3a" stroke-width="0.7" />
<line x1="151.35" y1="49.79" x2="159.55" y2="49.79" stroke="#3a3a3a" stroke-width="0.8" />
<line x1="151.35" y1="58.62" x2="159.55" y2="58.62" stroke="#3a3a3a" stroke-width="0.8" />
<line x1="170.39" y1="55.86" x2="170.39" y2="64.70" stroke="#3a3a3a" stroke-width="0.7" />
<line x1="166.29" y1="55.86" x2="174.49" y2="55.86" stroke="#3a3a3a" stroke-width="0.8" />
<line x1="166.29" y1="64.70" x2="174.49" y2="64.70" stroke="#3a3a3a" stroke-width="0.8" />
<line x1="185.32" y1="61.38" x2="185.32" y2="74.63" stroke="#3a3a3a" stroke-width="0.7" />
<line x1="181.22" y1="61.38" x2="189.42" y2="61.38" stroke="#3a3a3a" stroke-width="0.8" />
<line x1="181.22" y1="74.63" x2="189.42" y2="74.63" stroke="#3a3a3a" stroke-width="0.8" />
<line x1="200.26" y1="81.26" x2="200.26" y2="94.51" stroke="#3a3a3a" stroke-width="0.7" />
<line x1="196.16" y1="81.26" x2="204.36" y2="81.26" stroke="#3a3a3a" stroke-width="0.8" />
<line x1="196.16" y1="94.51" x2="204.36" y2="94.51" stroke="#3a3a3a" stroke-width="0.8" />
<polygon points="95.70,72.85 99.70,76.84 95.70,80.84 91.71,76.84" fill="#fdb913" stroke="#2b2f3a" stroke-width="0.8"/>
<polygon points="110.64,70.64 114.63,74.63 110.64,78.63 106.64,74.63" fill="#fdb913" stroke="#2b2f3a" stroke-width="0.8"/>
<polygon points="125.57,62.91 129.57,66.90 125.57,70.90 121.58,66.90" fill="#fdb913" stroke="#2b2f3a" stroke-width="0.8"/>
<polygon points="140.51,61.81 144.51,65.80 140.51,69.80 136.52,65.80" fill="#fdb913" stroke="#2b2f3a" stroke-width="0.8"/>
<polygon points="155.45,57.39 159.44,61.38 155.45,65.38 151.45,61.38" fill="#fdb913" stroke="#2b2f3a" stroke-width="0.8"/>
<polygon points="170.39,58.49 174.38,62.49 170.39,66.48 166.39,62.49" fill="#fdb913" stroke="#2b2f3a" stroke-width="0.8"/>
<polygon points="185.32,57.39 189.32,61.38 185.32,65.38 181.33,61.38" fill="#fdb913" stroke="#2b2f3a" stroke-width="0.8"/>
<polygon points="200.26,59.60 204.25,63.59 200.26,67.59 196.26,63.59" fill="#fdb913" stroke="#2b2f3a" stroke-width="0.8"/>
<polygon points="95.70,71.91 99.44,79.56 91.96,79.56" fill="#fdb913" stroke="#2b2f3a" stroke-width="0.8" stroke-linejoin="miter"/>
<polygon points="110.64,68.60 114.38,76.25 106.90,76.25" fill="#fdb913" stroke="#2b2f3a" stroke-width="0.8" stroke-linejoin="miter"/>
<polygon points="125.57,61.98 129.31,69.63 121.83,69.63" fill="#fdb913" stroke="#2b2f3a" stroke-width="0.8" stroke-linejoin="miter"/>
<polygon points="140.51,61.98 144.25,69.63 136.77,69.63" fill="#fdb913" stroke="#2b2f3a" stroke-width="0.8" stroke-linejoin="miter"/>
<polygon points="155.45,56.45 159.19,64.10 151.71,64.10" fill="#fdb913" stroke="#2b2f3a" stroke-width="0.8" stroke-linejoin="miter"/>
<polygon points="170.39,57.56 174.13,65.21 166.65,65.21" fill="#fdb913" stroke="#2b2f3a" stroke-width="0.8" stroke-linejoin="miter"/>
<polygon points="185.32,58.66 189.06,66.31 181.58,66.31" fill="#fdb913" stroke="#2b2f3a" stroke-width="0.8" stroke-linejoin="miter"/>
<polygon points="200.26,60.87 204.00,68.52 196.52,68.52" fill="#fdb913" stroke="#2b2f3a" stroke-width="0.8" stroke-linejoin="miter"/>
<circle cx="95.70" cy="70.22" r="4.25" fill="#fdb913" stroke="#2b2f3a" stroke-width="0.8"/>
<circle cx="110.64" cy="52.55" r="4.25" fill="#fdb913" stroke="#2b2f3a" stroke-width="0.8"/>
<circle cx="125.57" cy="52.55" r="4.25" fill="#fdb913" stroke="#2b2f3a" stroke-width="0.8"/>
<circle cx="140.51" cy="52.55" r="4.25" fill="#fdb913" stroke="#2b2f3a" stroke-width="0.8"/>
<circle cx="155.45" cy="55.86" r="4.25" fill="#fdb913" stroke="#2b2f3a" stroke-width="0.8"/>
<circle cx="170.39" cy="58.07" r="4.25" fill="#fdb913" stroke="#2b2f3a" stroke-width="0.8"/>
<circle cx="185.32" cy="61.38" r="4.25" fill="#fdb913" stroke="#2b2f3a" stroke-width="0.8"/>
<circle cx="200.26" cy="77.95" r="4.25" fill="#fdb913" stroke="#2b2f3a" stroke-width="0.8"/>
<polygon points="95.70,58.49 99.70,62.49 95.70,66.48 91.71,62.49" fill="#1f5a9e" stroke="#2b2f3a" stroke-width="0.8"/>
<polygon points="110.64,59.60 114.63,63.59 110.64,67.59 106.64,63.59" fill="#1f5a9e" stroke="#2b2f3a" stroke-width="0.8"/>
<polygon points="125.57,58.49 129.57,62.49 125.57,66.48 121.58,62.49" fill="#1f5a9e" stroke="#2b2f3a" stroke-width="0.8"/>
<polygon points="140.51,56.28 144.51,60.28 140.51,64.27 136.52,60.28" fill="#1f5a9e" stroke="#2b2f3a" stroke-width="0.8"/>
<polygon points="155.45,59.60 159.44,63.59 155.45,67.59 151.45,63.59" fill="#1f5a9e" stroke="#2b2f3a" stroke-width="0.8"/>
<polygon points="170.39,55.18 174.38,59.17 170.39,63.17 166.39,59.17" fill="#1f5a9e" stroke="#2b2f3a" stroke-width="0.8"/>
<polygon points="185.32,57.39 189.32,61.38 185.32,65.38 181.33,61.38" fill="#1f5a9e" stroke="#2b2f3a" stroke-width="0.8"/>
<polygon points="200.26,52.97 204.25,56.97 200.26,60.96 196.26,56.97" fill="#1f5a9e" stroke="#2b2f3a" stroke-width="0.8"/>
<rect x="91.58" y="61.68" width="8.24" height="8.24" fill="#fdb913" stroke="#2b2f3a" stroke-width="0.8"/>
<rect x="106.51" y="62.78" width="8.24" height="8.24" fill="#fdb913" stroke="#2b2f3a" stroke-width="0.8"/>
<rect x="121.45" y="66.09" width="8.24" height="8.24" fill="#fdb913" stroke="#2b2f3a" stroke-width="0.8"/>
<rect x="136.39" y="61.68" width="8.24" height="8.24" fill="#fdb913" stroke="#2b2f3a" stroke-width="0.8"/>
<rect x="151.33" y="62.78" width="8.24" height="8.24" fill="#fdb913" stroke="#2b2f3a" stroke-width="0.8"/>
<rect x="166.26" y="57.26" width="8.24" height="8.24" fill="#fdb913" stroke="#2b2f3a" stroke-width="0.8"/>
<rect x="181.20" y="57.26" width="8.24" height="8.24" fill="#fdb913" stroke="#2b2f3a" stroke-width="0.8"/>
<rect x="196.14" y="58.36" width="8.24" height="8.24" fill="#fdb913" stroke="#2b2f3a" stroke-width="0.8"/>
<rect x="91.58" y="53.95" width="8.24" height="8.24" fill="#1f5a9e" stroke="#2b2f3a" stroke-width="0.8"/>
<rect x="106.51" y="57.26" width="8.24" height="8.24" fill="#1f5a9e" stroke="#2b2f3a" stroke-width="0.8"/>
<rect x="121.45" y="56.16" width="8.24" height="8.24" fill="#1f5a9e" stroke="#2b2f3a" stroke-width="0.8"/>
<rect x="136.39" y="52.84" width="8.24" height="8.24" fill="#1f5a9e" stroke="#2b2f3a" stroke-width="0.8"/>
<rect x="151.33" y="47.32" width="8.24" height="8.24" fill="#1f5a9e" stroke="#2b2f3a" stroke-width="0.8"/>
<rect x="166.26" y="50.64" width="8.24" height="8.24" fill="#1f5a9e" stroke="#2b2f3a" stroke-width="0.8"/>
<rect x="181.20" y="51.74" width="8.24" height="8.24" fill="#1f5a9e" stroke="#2b2f3a" stroke-width="0.8"/>
<rect x="196.14" y="55.60" width="8.24" height="8.24" fill="#1f5a9e" stroke="#2b2f3a" stroke-width="0.8"/>
<polygon points="95.70,78.54 99.44,86.19 91.96,86.19" fill="#1f5a9e" stroke="#2b2f3a" stroke-width="0.8" stroke-linejoin="miter"/>
<polygon points="110.64,66.39 114.38,74.04 106.90,74.04" fill="#1f5a9e" stroke="#2b2f3a" stroke-width="0.8" stroke-linejoin="miter"/>
<polygon points="125.57,56.45 129.31,64.10 121.83,64.10" fill="#1f5a9e" stroke="#2b2f3a" stroke-width="0.8" stroke-linejoin="miter"/>
<polygon points="140.51,60.87 144.25,68.52 136.77,68.52" fill="#1f5a9e" stroke="#2b2f3a" stroke-width="0.8" stroke-linejoin="miter"/>
<polygon points="155.45,59.77 159.19,67.42 151.71,67.42" fill="#1f5a9e" stroke="#2b2f3a" stroke-width="0.8" stroke-linejoin="miter"/>
<polygon points="170.39,58.66 174.13,66.31 166.65,66.31" fill="#1f5a9e" stroke="#2b2f3a" stroke-width="0.8" stroke-linejoin="miter"/>
<polygon points="185.32,63.63 189.06,71.28 181.58,71.28" fill="#1f5a9e" stroke="#2b2f3a" stroke-width="0.8" stroke-linejoin="miter"/>
<polygon points="200.26,63.08 204.00,70.73 196.52,70.73" fill="#1f5a9e" stroke="#2b2f3a" stroke-width="0.8" stroke-linejoin="miter"/>
<circle cx="95.70" cy="65.80" r="4.25" fill="#1f5a9e" stroke="#2b2f3a" stroke-width="0.8"/>
<circle cx="110.64" cy="56.97" r="4.25" fill="#1f5a9e" stroke="#2b2f3a" stroke-width="0.8"/>
<circle cx="125.57" cy="56.41" r="4.25" fill="#1f5a9e" stroke="#2b2f3a" stroke-width="0.8"/>
<circle cx="140.51" cy="55.86" r="4.25" fill="#1f5a9e" stroke="#2b2f3a" stroke-width="0.8"/>
<circle cx="155.45" cy="54.21" r="4.25" fill="#1f5a9e" stroke="#2b2f3a" stroke-width="0.8"/>
<circle cx="170.39" cy="60.28" r="4.25" fill="#1f5a9e" stroke="#2b2f3a" stroke-width="0.8"/>
<circle cx="185.32" cy="68.01" r="4.25" fill="#1f5a9e" stroke="#2b2f3a" stroke-width="0.8"/>
<circle cx="200.26" cy="87.88" r="4.25" fill="#1f5a9e" stroke="#2b2f3a" stroke-width="0.8"/>
<polyline points="379.10,156.37 380.41,155.84 381.71,155.28 383.02,154.70 384.33,154.09 385.64,153.44 386.94,152.77 388.25,152.06 389.56,151.32 390.86,150.55 392.17,149.74 393.48,148.89 394.78,148.01 396.09,147.09 397.40,146.14 398.71,145.15 400.01,144.11 401.32,143.04 402.63,141.93 403.93,140.78 405.24,139.60 406.55,138.37 407.85,137.11 409.16,135.81 410.47,134.47 411.78,133.09 413.08,131.69 414.39,130.25 415.70,128.77 417.00,127.27 418.31,125.74 419.62,124.18 420.92,122.60 422.23,121.00 423.54,119.39 424.85,117.75 426.15,116.10 427.46,114.45 428.77,112.78 430.07,111.11 431.38,109.44 432.69,107.78 433.99,106.12 435.30,104.46 436.61,102.82 437.92,101.19 439.22,99.58 440.53,97.99 441.84,96.42 443.14,94.87 444.45,93.35 445.76,91.86 447.06,90.40 448.37,88.97 449.68,87.58 450.99,86.22 452.29,84.90 453.60,83.61 454.91,82.36 456.21,81.15 457.52,79.98 458.83,78.85 460.13,77.75 461.44,76.70 462.75,75.68 464.06,74.70 465.36,73.76 466.67,72.86 467.98,72.00 469.28,71.17 470.59,70.37 471.90,69.61 473.20,68.88 474.51,68.19 475.82,67.53 477.13,66.90 478.43,66.30 479.74,65.72 481.05,65.18 482.35,64.66 483.66,64.17" fill="none" stroke="#3a3a3a" stroke-width="0.75"/>
<polyline points="379.10,161.69 380.41,161.69 381.71,161.69 383.02,161.69 384.33,161.69 385.64,161.69 386.94,161.69 388.25,161.69 389.56,161.69 390.86,161.68 392.17,161.68 393.48,161.68 394.78,161.68 396.09,161.68 397.40,161.68 398.71,161.67 400.01,161.67 401.32,161.66 402.63,161.66 403.93,161.65 405.24,161.64 406.55,161.62 407.85,161.60 409.16,161.58 410.47,161.55 411.78,161.52 413.08,161.47 414.39,161.41 415.70,161.33 417.00,161.23 418.31,161.11 419.62,160.95 420.92,160.75 422.23,160.50 423.54,160.18 424.85,159.77 426.15,159.25 427.46,158.60 428.77,157.78 430.07,156.76 431.38,155.48 432.69,153.89 433.99,151.93 435.30,149.53 436.61,146.63 437.92,143.16 439.22,139.07 440.53,134.33 441.84,128.95 443.14,122.97 444.45,116.51 445.76,109.69 447.06,102.71 448.37,95.77 449.68,89.06 450.99,82.76 452.29,76.99 453.60,71.84 454.91,67.34 456.21,63.48 457.52,60.22 458.83,57.51 460.13,55.28 461.44,53.46 462.75,51.99 464.06,50.81 465.36,49.87 466.67,49.11 467.98,48.51 469.28,48.04 470.59,47.67 471.90,47.37 473.20,47.14 474.51,46.96 475.82,46.81 477.13,46.70 478.43,46.61 479.74,46.54 481.05,46.48 482.35,46.44 483.66,46.41" fill="none" stroke="#3a3a3a" stroke-width="0.75"/>
<polyline points="379.10,172.25 380.41,172.22 381.71,172.19 383.02,172.14 384.33,172.07 385.64,171.97 386.94,171.82 388.25,171.61 389.56,171.31 390.86,170.88 392.17,170.27 393.48,169.39 394.78,168.16 396.09,166.43 397.40,164.02 398.71,160.73 400.01,156.29 401.32,150.49 402.63,143.14 403.93,134.23 405.24,123.97 406.55,112.82 407.85,101.46 409.16,90.63 410.47,80.91 411.78,72.68 413.08,66.02 414.39,60.85 415.70,56.95 417.00,54.07 418.31,51.98 419.62,50.49 420.92,49.43 422.23,48.68 423.54,48.16 424.85,47.79 426.15,47.53 427.46,47.36 428.77,47.23 430.07,47.14 431.38,47.08 432.69,47.04 433.99,47.01 435.30,46.99 436.61,46.98 437.92,46.97 439.22,46.96 440.53,46.96 441.84,46.95 443.14,46.95 444.45,46.95 445.76,46.95 447.06,46.95 448.37,46.95 449.68,46.95 450.99,46.95 452.29,46.95 453.60,46.95 454.91,46.95 456.21,46.95 457.52,46.95 458.83,46.95 460.13,46.95 461.44,46.95 462.75,46.95 464.06,46.95 465.36,46.95 466.67,46.95 467.98,46.95 469.28,46.95 470.59,46.95 471.90,46.95 473.20,46.95 474.51,46.95 475.82,46.95 477.13,46.95 478.43,46.95 479.74,46.95 481.05,46.95 482.35,46.95 483.66,46.95" fill="none" stroke="#3a3a3a" stroke-width="0.75"/>
<polyline points="379.10,161.72 380.41,161.12 381.71,160.50 383.02,159.84 384.33,159.14 385.64,158.42 386.94,157.66 388.25,156.87 389.56,156.04 390.86,155.17 392.17,154.26 393.48,153.32 394.78,152.33 396.09,151.31 397.40,150.25 398.71,149.14 400.01,147.99 401.32,146.81 402.63,145.58 403.93,144.31 405.24,143.00 406.55,141.64 407.85,140.25 409.16,138.83 410.47,137.36 411.78,135.86 413.08,134.32 414.39,132.75 415.70,131.15 417.00,129.52 418.31,127.86 419.62,126.18 420.92,124.48 422.23,122.76 423.54,121.02 424.85,119.27 426.15,117.51 427.46,115.74 428.77,113.97 430.07,112.20 431.38,110.44 432.69,108.68 433.99,106.93 435.30,105.19 436.61,103.47 437.92,101.77 439.22,100.08 440.53,98.43 441.84,96.79 443.14,95.19 444.45,93.62 445.76,92.08 447.06,90.58 448.37,89.11 449.68,87.68 450.99,86.29 452.29,84.93 453.60,83.62 454.91,82.35 456.21,81.12 457.52,79.93 458.83,78.78 460.13,77.67 461.44,76.61 462.75,75.58 464.06,74.59 465.36,73.65 466.67,72.74 467.98,71.87 469.28,71.04 470.59,70.24 471.90,69.48 473.20,68.76 474.51,68.06 475.82,67.40 477.13,66.77 478.43,66.17 479.74,65.60 481.05,65.06 482.35,64.54 483.66,64.05" fill="none" stroke="#3a3a3a" stroke-width="0.75"/>
<polyline points="379.10,163.10 380.41,162.52 381.71,161.90 383.02,161.24 384.33,160.55 385.64,159.82 386.94,159.04 388.25,158.23 389.56,157.37 390.86,156.47 392.17,155.52 393.48,154.52 394.78,153.47 396.09,152.38 397.40,151.23 398.71,150.02 400.01,148.77 401.32,147.46 402.63,146.09 403.93,144.67 405.24,143.20 406.55,141.67 407.85,140.09 409.16,138.45 410.47,136.76 411.78,135.02 413.08,133.22 414.39,131.39 415.70,129.50 417.00,127.58 418.31,125.61 419.62,123.61 420.92,121.57 422.23,119.51 423.54,117.42 424.85,115.31 426.15,113.19 427.46,111.05 428.77,108.91 430.07,106.76 431.38,104.62 432.69,102.48 433.99,100.36 435.30,98.25 436.61,96.16 437.92,94.10 439.22,92.07 440.53,90.07 441.84,88.11 443.14,86.19 444.45,84.31 445.76,82.48 447.06,80.70 448.37,78.96 449.68,77.28 450.99,75.64 452.29,74.07 453.60,72.54 454.91,71.08 456.21,69.66 457.52,68.31 458.83,67.00 460.13,65.75 461.44,64.56 462.75,63.41 464.06,62.32 465.36,61.28 466.67,60.29 467.98,59.35 469.28,58.45 470.59,57.60 471.90,56.79 473.20,56.02 474.51,55.29 475.82,54.60 477.13,53.95 478.43,53.34 479.74,52.75 481.05,52.20 482.35,51.69 483.66,51.20" fill="none" stroke="#3a3a3a" stroke-width="0.75"/>
<polyline points="379.10,48.27 394.04,48.27 408.97,48.27 423.91,48.27 438.85,48.27 453.79,48.27 468.72,48.27 483.66,48.27" fill="none" stroke="#3a3a3a" stroke-width="0.75"/>
<polyline points="379.10,169.65 380.41,169.65 381.71,169.65 383.02,169.65 384.33,169.65 385.64,169.65 386.94,169.65 388.25,169.65 389.56,169.65 390.86,169.65 392.17,169.65 393.48,169.65 394.78,169.65 396.09,169.65 397.40,169.65 398.71,169.64 400.01,169.64 401.32,169.64 402.63,169.64 403.93,169.64 405.24,169.64 406.55,169.63 407.85,169.63 409.16,169.63 410.47,169.62 411.78,169.61 413.08,169.60 414.39,169.58 415.70,169.56 417.00,169.53 418.31,169.49 419.62,169.43 420.92,169.36 422.23,169.27 423.54,169.15 424.85,168.98 426.15,168.76 427.46,168.48 428.77,168.09 430.07,167.59 431.38,166.93 432.69,166.06 433.99,164.92 435.30,163.43 436.61,161.52 437.92,159.06 439.22,155.95 440.53,152.06 441.84,147.29 443.14,141.56 444.45,134.85 445.76,127.24 447.06,118.88 448.37,110.06 449.68,101.09 450.99,92.35 452.29,84.15 453.60,76.74 454.91,70.27 456.21,64.77 457.52,60.21 458.83,56.52 460.13,53.58 461.44,51.26 462.75,49.45 464.06,48.06 465.36,46.99 466.67,46.17 467.98,45.55 469.28,45.08 470.59,44.72 471.90,44.45 473.20,44.25 474.51,44.10 475.82,43.98 477.13,43.89 478.43,43.83 479.74,43.78 481.05,43.74 482.35,43.71 483.66,43.69" fill="none" stroke="#3a3a3a" stroke-width="0.75"/>
<polyline points="379.10,152.67 380.41,151.10 381.71,149.44 383.02,147.68 384.33,145.82 385.64,143.86 386.94,141.79 388.25,139.62 389.56,137.36 390.86,134.99 392.17,132.54 393.48,130.00 394.78,127.37 396.09,124.68 397.40,121.92 398.71,119.10 400.01,116.24 401.32,113.35 402.63,110.44 403.93,107.51 405.24,104.59 406.55,101.68 407.85,98.79 409.16,95.95 410.47,93.15 411.78,90.41 413.08,87.73 414.39,85.14 415.70,82.62 417.00,80.19 418.31,77.86 419.62,75.62 420.92,73.49 422.23,71.45 423.54,69.52 424.85,67.69 426.15,65.96 427.46,64.33 428.77,62.80 430.07,61.36 431.38,60.02 432.69,58.76 433.99,57.59 435.30,56.49 436.61,55.48 437.92,54.53 439.22,53.66 440.53,52.85 441.84,52.10 443.14,51.41 444.45,50.77 445.76,50.18 447.06,49.64 448.37,49.14 449.68,48.68 450.99,48.25 452.29,47.87 453.60,47.51 454.91,47.18 456.21,46.88 457.52,46.60 458.83,46.35 460.13,46.12 461.44,45.91 462.75,45.71 464.06,45.53 465.36,45.37 466.67,45.22 467.98,45.08 469.28,44.96 470.59,44.84 471.90,44.74 473.20,44.64 474.51,44.56 475.82,44.48 477.13,44.40 478.43,44.34 479.74,44.27 481.05,44.22 482.35,44.17 483.66,44.12" fill="none" stroke="#3a3a3a" stroke-width="0.75"/>
<line x1="379.10" y1="157.71" x2="379.10" y2="172.30" stroke="#3a3a3a" stroke-width="0.7" />
<line x1="375.00" y1="157.71" x2="383.20" y2="157.71" stroke="#3a3a3a" stroke-width="0.8" />
<line x1="394.04" y1="131.84" x2="394.04" y2="147.76" stroke="#3a3a3a" stroke-width="0.7" />
<line x1="389.94" y1="131.84" x2="398.14" y2="131.84" stroke="#3a3a3a" stroke-width="0.8" />
<line x1="389.94" y1="147.76" x2="398.14" y2="147.76" stroke="#3a3a3a" stroke-width="0.8" />
<line x1="408.97" y1="114.20" x2="408.97" y2="127.46" stroke="#3a3a3a" stroke-width="0.7" />
<line x1="404.87" y1="114.20" x2="413.07" y2="114.20" stroke="#3a3a3a" stroke-width="0.8" />
<line x1="404.87" y1="127.46" x2="413.07" y2="127.46" stroke="#3a3a3a" stroke-width="0.8" />
<line x1="423.91" y1="111.94" x2="423.91" y2="122.56" stroke="#3a3a3a" stroke-width="0.7" />
<line x1="419.81" y1="111.94" x2="428.01" y2="111.94" stroke="#3a3a3a" stroke-width="0.8" />
<line x1="419.81" y1="122.56" x2="428.01" y2="122.56" stroke="#3a3a3a" stroke-width="0.8" />
<line x1="438.85" y1="114.46" x2="438.85" y2="125.08" stroke="#3a3a3a" stroke-width="0.7" />
<line x1="434.75" y1="114.46" x2="442.95" y2="114.46" stroke="#3a3a3a" stroke-width="0.8" />
<line x1="434.75" y1="125.08" x2="442.95" y2="125.08" stroke="#3a3a3a" stroke-width="0.8" />
<line x1="453.79" y1="86.34" x2="453.79" y2="96.95" stroke="#3a3a3a" stroke-width="0.7" />
<line x1="449.69" y1="86.34" x2="457.89" y2="86.34" stroke="#3a3a3a" stroke-width="0.8" />
<line x1="449.69" y1="96.95" x2="457.89" y2="96.95" stroke="#3a3a3a" stroke-width="0.8" />
<line x1="468.72" y1="58.22" x2="468.72" y2="68.83" stroke="#3a3a3a" stroke-width="0.7" />
<line x1="464.62" y1="58.22" x2="472.82" y2="58.22" stroke="#3a3a3a" stroke-width="0.8" />
<line x1="464.62" y1="68.83" x2="472.82" y2="68.83" stroke="#3a3a3a" stroke-width="0.8" />
<line x1="483.66" y1="52.92" x2="483.66" y2="63.53" stroke="#3a3a3a" stroke-width="0.7" />
<line x1="479.56" y1="52.92" x2="487.76" y2="52.92" stroke="#3a3a3a" stroke-width="0.8" />
<line x1="479.56" y1="63.53" x2="487.76" y2="63.53" stroke="#3a3a3a" stroke-width="0.8" />
<line x1="379.10" y1="160.36" x2="379.10" y2="172.30" stroke="#3a3a3a" stroke-width="0.7" />
<line x1="375.00" y1="160.36" x2="383.20" y2="160.36" stroke="#3a3a3a" stroke-width="0.8" />
<line x1="394.04" y1="157.71" x2="394.04" y2="168.32" stroke="#3a3a3a" stroke-width="0.7" />
<line x1="389.94" y1="157.71" x2="398.14" y2="157.71" stroke="#3a3a3a" stroke-width="0.8" />
<line x1="389.94" y1="168.32" x2="398.14" y2="168.32" stroke="#3a3a3a" stroke-width="0.8" />
<line x1="408.97" y1="155.06" x2="408.97" y2="168.32" stroke="#3a3a3a" stroke-width="0.7" />
<line x1="404.87" y1="155.06" x2="413.07" y2="155.06" stroke="#3a3a3a" stroke-width="0.8" />
<line x1="404.87" y1="168.32" x2="413.07" y2="168.32" stroke="#3a3a3a" stroke-width="0.8" />
<line x1="423.91" y1="154.52" x2="423.91" y2="165.14" stroke="#3a3a3a" stroke-width="0.7" />
<line x1="419.81" y1="154.52" x2="428.01" y2="154.52" stroke="#3a3a3a" stroke-width="0.8" />
<line x1="419.81" y1="165.14" x2="428.01" y2="165.14" stroke="#3a3a3a" stroke-width="0.8" />
<line x1="438.85" y1="154.39" x2="438.85" y2="165.00" stroke="#3a3a3a" stroke-width="0.7" />
<line x1="434.75" y1="154.39" x2="442.95" y2="154.39" stroke="#3a3a3a" stroke-width="0.8" />
<line x1="434.75" y1="165.00" x2="442.95" y2="165.00" stroke="#3a3a3a" stroke-width="0.8" />
<line x1="453.79" y1="58.22" x2="453.79" y2="68.83" stroke="#3a3a3a" stroke-width="0.7" />
<line x1="449.69" y1="58.22" x2="457.89" y2="58.22" stroke="#3a3a3a" stroke-width="0.8" />
<line x1="449.69" y1="68.83" x2="457.89" y2="68.83" stroke="#3a3a3a" stroke-width="0.8" />
<line x1="468.72" y1="40.98" x2="468.72" y2="51.59" stroke="#3a3a3a" stroke-width="0.7" />
<line x1="464.62" y1="40.98" x2="472.82" y2="40.98" stroke="#3a3a3a" stroke-width="0.8" />
<line x1="464.62" y1="51.59" x2="472.82" y2="51.59" stroke="#3a3a3a" stroke-width="0.8" />
<line x1="483.66" y1="38.32" x2="483.66" y2="48.94" stroke="#3a3a3a" stroke-width="0.7" />
<line x1="479.56" y1="38.32" x2="487.76" y2="38.32" stroke="#3a3a3a" stroke-width="0.8" />
<line x1="479.56" y1="48.94" x2="487.76" y2="48.94" stroke="#3a3a3a" stroke-width="0.8" />
<line x1="379.10" y1="159.70" x2="379.10" y2="172.30" stroke="#3a3a3a" stroke-width="0.7" />
<line x1="375.00" y1="159.70" x2="383.20" y2="159.70" stroke="#3a3a3a" stroke-width="0.8" />
<line x1="394.04" y1="159.03" x2="394.04" y2="169.65" stroke="#3a3a3a" stroke-width="0.7" />
<line x1="389.94" y1="159.03" x2="398.14" y2="159.03" stroke="#3a3a3a" stroke-width="0.8" />
<line x1="389.94" y1="169.65" x2="398.14" y2="169.65" stroke="#3a3a3a" stroke-width="0.8" />
<line x1="408.97" y1="80.11" x2="408.97" y2="93.37" stroke="#3a3a3a" stroke-width="0.7" />
<line x1="404.87" y1="80.11" x2="413.07" y2="80.11" stroke="#3a3a3a" stroke-width="0.8" />
<line x1="404.87" y1="93.37" x2="413.07" y2="93.37" stroke="#3a3a3a" stroke-width="0.8" />
<line x1="423.91" y1="35.67" x2="423.91" y2="46.28" stroke="#3a3a3a" stroke-width="0.7" />
<line x1="419.81" y1="35.67" x2="428.01" y2="35.67" stroke="#3a3a3a" stroke-width="0.8" />
<line x1="419.81" y1="46.28" x2="428.01" y2="46.28" stroke="#3a3a3a" stroke-width="0.8" />
<line x1="438.85" y1="52.92" x2="438.85" y2="63.53" stroke="#3a3a3a" stroke-width="0.7" />
<line x1="434.75" y1="52.92" x2="442.95" y2="52.92" stroke="#3a3a3a" stroke-width="0.8" />
<line x1="434.75" y1="63.53" x2="442.95" y2="63.53" stroke="#3a3a3a" stroke-width="0.8" />
<line x1="453.79" y1="45.62" x2="453.79" y2="56.23" stroke="#3a3a3a" stroke-width="0.7" />
<line x1="449.69" y1="45.62" x2="457.89" y2="45.62" stroke="#3a3a3a" stroke-width="0.8" />
<line x1="449.69" y1="56.23" x2="457.89" y2="56.23" stroke="#3a3a3a" stroke-width="0.8" />
<line x1="468.72" y1="56.89" x2="468.72" y2="70.16" stroke="#3a3a3a" stroke-width="0.7" />
<line x1="464.62" y1="56.89" x2="472.82" y2="56.89" stroke="#3a3a3a" stroke-width="0.8" />
<line x1="464.62" y1="70.16" x2="472.82" y2="70.16" stroke="#3a3a3a" stroke-width="0.8" />
<line x1="483.66" y1="52.92" x2="483.66" y2="66.18" stroke="#3a3a3a" stroke-width="0.7" />
<line x1="479.56" y1="52.92" x2="487.76" y2="52.92" stroke="#3a3a3a" stroke-width="0.8" />
<line x1="479.56" y1="66.18" x2="487.76" y2="66.18" stroke="#3a3a3a" stroke-width="0.8" />
<line x1="379.10" y1="156.38" x2="379.10" y2="172.30" stroke="#3a3a3a" stroke-width="0.7" />
<line x1="375.00" y1="156.38" x2="383.20" y2="156.38" stroke="#3a3a3a" stroke-width="0.8" />
<line x1="394.04" y1="155.06" x2="394.04" y2="165.67" stroke="#3a3a3a" stroke-width="0.7" />
<line x1="389.94" y1="155.06" x2="398.14" y2="155.06" stroke="#3a3a3a" stroke-width="0.8" />
<line x1="389.94" y1="165.67" x2="398.14" y2="165.67" stroke="#3a3a3a" stroke-width="0.8" />
<line x1="408.97" y1="153.73" x2="408.97" y2="164.34" stroke="#3a3a3a" stroke-width="0.7" />
<line x1="404.87" y1="153.73" x2="413.07" y2="153.73" stroke="#3a3a3a" stroke-width="0.8" />
<line x1="404.87" y1="164.34" x2="413.07" y2="164.34" stroke="#3a3a3a" stroke-width="0.8" />
<line x1="423.91" y1="111.94" x2="423.91" y2="122.56" stroke="#3a3a3a" stroke-width="0.7" />
<line x1="419.81" y1="111.94" x2="428.01" y2="111.94" stroke="#3a3a3a" stroke-width="0.8" />
<line x1="419.81" y1="122.56" x2="428.01" y2="122.56" stroke="#3a3a3a" stroke-width="0.8" />
<line x1="438.85" y1="91.78" x2="438.85" y2="102.39" stroke="#3a3a3a" stroke-width="0.7" />
<line x1="434.75" y1="91.78" x2="442.95" y2="91.78" stroke="#3a3a3a" stroke-width="0.8" />
<line x1="434.75" y1="102.39" x2="442.95" y2="102.39" stroke="#3a3a3a" stroke-width="0.8" />
<line x1="453.79" y1="69.10" x2="453.79" y2="79.71" stroke="#3a3a3a" stroke-width="0.7" />
<line x1="449.69" y1="69.10" x2="457.89" y2="69.10" stroke="#3a3a3a" stroke-width="0.8" />
<line x1="449.69" y1="79.71" x2="457.89" y2="79.71" stroke="#3a3a3a" stroke-width="0.8" />
<line x1="468.72" y1="47.61" x2="468.72" y2="58.22" stroke="#3a3a3a" stroke-width="0.7" />
<line x1="464.62" y1="47.61" x2="472.82" y2="47.61" stroke="#3a3a3a" stroke-width="0.8" />
<line x1="464.62" y1="58.22" x2="472.82" y2="58.22" stroke="#3a3a3a" stroke-width="0.8" />
<line x1="483.66" y1="58.49" x2="483.66" y2="69.10" stroke="#3a3a3a" stroke-width="0.7" />
<line x1="479.56" y1="58.49" x2="487.76" y2="58.49" stroke="#3a3a3a" stroke-width="0.8" />
<line x1="479.56" y1="69.10" x2="487.76" y2="69.10" stroke="#3a3a3a" stroke-width="0.8" />
<line x1="379.10" y1="156.38" x2="379.10" y2="172.30" stroke="#3a3a3a" stroke-width="0.7" />
<line x1="375.00" y1="156.38" x2="383.20" y2="156.38" stroke="#3a3a3a" stroke-width="0.8" />
<line x1="394.04" y1="148.42" x2="394.04" y2="161.69" stroke="#3a3a3a" stroke-width="0.7" />
<line x1="389.94" y1="148.42" x2="398.14" y2="148.42" stroke="#3a3a3a" stroke-width="0.8" />
<line x1="389.94" y1="161.69" x2="398.14" y2="161.69" stroke="#3a3a3a" stroke-width="0.8" />
<line x1="408.97" y1="153.07" x2="408.97" y2="166.33" stroke="#3a3a3a" stroke-width="0.7" />
<line x1="404.87" y1="153.07" x2="413.07" y2="153.07" stroke="#3a3a3a" stroke-width="0.8" />
<line x1="404.87" y1="166.33" x2="413.07" y2="166.33" stroke="#3a3a3a" stroke-width="0.8" />
<line x1="423.91" y1="87.67" x2="423.91" y2="100.93" stroke="#3a3a3a" stroke-width="0.7" />
<line x1="419.81" y1="87.67" x2="428.01" y2="87.67" stroke="#3a3a3a" stroke-width="0.8" />
<line x1="419.81" y1="100.93" x2="428.01" y2="100.93" stroke="#3a3a3a" stroke-width="0.8" />
<line x1="438.85" y1="85.94" x2="438.85" y2="99.21" stroke="#3a3a3a" stroke-width="0.7" />
<line x1="434.75" y1="85.94" x2="442.95" y2="85.94" stroke="#3a3a3a" stroke-width="0.8" />
<line x1="434.75" y1="99.21" x2="442.95" y2="99.21" stroke="#3a3a3a" stroke-width="0.8" />
<line x1="453.79" y1="70.56" x2="453.79" y2="83.82" stroke="#3a3a3a" stroke-width="0.7" />
<line x1="449.69" y1="70.56" x2="457.89" y2="70.56" stroke="#3a3a3a" stroke-width="0.8" />
<line x1="449.69" y1="83.82" x2="457.89" y2="83.82" stroke="#3a3a3a" stroke-width="0.8" />
<line x1="468.72" y1="37.00" x2="468.72" y2="47.61" stroke="#3a3a3a" stroke-width="0.7" />
<line x1="464.62" y1="37.00" x2="472.82" y2="37.00" stroke="#3a3a3a" stroke-width="0.8" />
<line x1="464.62" y1="47.61" x2="472.82" y2="47.61" stroke="#3a3a3a" stroke-width="0.8" />
<line x1="483.66" y1="29.04" x2="483.66" y2="52.92" stroke="#3a3a3a" stroke-width="0.7" />
<line x1="479.56" y1="29.04" x2="487.76" y2="29.04" stroke="#3a3a3a" stroke-width="0.8" />
<line x1="479.56" y1="52.92" x2="487.76" y2="52.92" stroke="#3a3a3a" stroke-width="0.8" />
<line x1="379.10" y1="42.30" x2="379.10" y2="50.26" stroke="#3a3a3a" stroke-width="0.7" />
<line x1="375.00" y1="42.30" x2="383.20" y2="42.30" stroke="#3a3a3a" stroke-width="0.8" />
<line x1="375.00" y1="50.26" x2="383.20" y2="50.26" stroke="#3a3a3a" stroke-width="0.8" />
<line x1="394.04" y1="38.85" x2="394.04" y2="57.43" stroke="#3a3a3a" stroke-width="0.7" />
<line x1="389.94" y1="38.85" x2="398.14" y2="38.85" stroke="#3a3a3a" stroke-width="0.8" />
<line x1="389.94" y1="57.43" x2="398.14" y2="57.43" stroke="#3a3a3a" stroke-width="0.8" />
<line x1="408.97" y1="41.91" x2="408.97" y2="60.48" stroke="#3a3a3a" stroke-width="0.7" />
<line x1="404.87" y1="41.91" x2="413.07" y2="41.91" stroke="#3a3a3a" stroke-width="0.8" />
<line x1="404.87" y1="60.48" x2="413.07" y2="60.48" stroke="#3a3a3a" stroke-width="0.8" />
<line x1="423.91" y1="42.04" x2="423.91" y2="55.30" stroke="#3a3a3a" stroke-width="0.7" />
<line x1="419.81" y1="42.04" x2="428.01" y2="42.04" stroke="#3a3a3a" stroke-width="0.8" />
<line x1="419.81" y1="55.30" x2="428.01" y2="55.30" stroke="#3a3a3a" stroke-width="0.8" />
<line x1="438.85" y1="46.28" x2="438.85" y2="56.89" stroke="#3a3a3a" stroke-width="0.7" />
<line x1="434.75" y1="46.28" x2="442.95" y2="46.28" stroke="#3a3a3a" stroke-width="0.8" />
<line x1="434.75" y1="56.89" x2="442.95" y2="56.89" stroke="#3a3a3a" stroke-width="0.8" />
<line x1="453.79" y1="49.73" x2="453.79" y2="60.34" stroke="#3a3a3a" stroke-width="0.7" />
<line x1="449.69" y1="49.73" x2="457.89" y2="49.73" stroke="#3a3a3a" stroke-width="0.8" />
<line x1="449.69" y1="60.34" x2="457.89" y2="60.34" stroke="#3a3a3a" stroke-width="0.8" />
<line x1="468.72" y1="48.94" x2="468.72" y2="62.20" stroke="#3a3a3a" stroke-width="0.7" />
<line x1="464.62" y1="48.94" x2="472.82" y2="48.94" stroke="#3a3a3a" stroke-width="0.8" />
<line x1="464.62" y1="62.20" x2="472.82" y2="62.20" stroke="#3a3a3a" stroke-width="0.8" />
<line x1="483.66" y1="46.28" x2="483.66" y2="59.55" stroke="#3a3a3a" stroke-width="0.7" />
<line x1="479.56" y1="46.28" x2="487.76" y2="46.28" stroke="#3a3a3a" stroke-width="0.8" />
<line x1="479.56" y1="59.55" x2="487.76" y2="59.55" stroke="#3a3a3a" stroke-width="0.8" />
<line x1="379.10" y1="156.38" x2="379.10" y2="172.30" stroke="#3a3a3a" stroke-width="0.7" />
<line x1="375.00" y1="156.38" x2="383.20" y2="156.38" stroke="#3a3a3a" stroke-width="0.8" />
<line x1="394.04" y1="152.40" x2="394.04" y2="163.01" stroke="#3a3a3a" stroke-width="0.7" />
<line x1="389.94" y1="152.40" x2="398.14" y2="152.40" stroke="#3a3a3a" stroke-width="0.8" />
<line x1="389.94" y1="163.01" x2="398.14" y2="163.01" stroke="#3a3a3a" stroke-width="0.8" />
<line x1="408.97" y1="158.11" x2="408.97" y2="168.72" stroke="#3a3a3a" stroke-width="0.7" />
<line x1="404.87" y1="158.11" x2="413.07" y2="158.11" stroke="#3a3a3a" stroke-width="0.8" />
<line x1="404.87" y1="168.72" x2="413.07" y2="168.72" stroke="#3a3a3a" stroke-width="0.8" />
<line x1="423.91" y1="166.33" x2="423.91" y2="172.30" stroke="#3a3a3a" stroke-width="0.7" />
<line x1="419.81" y1="166.33" x2="428.01" y2="166.33" stroke="#3a3a3a" stroke-width="0.8" />
<line x1="438.85" y1="114.60" x2="438.85" y2="135.82" stroke="#3a3a3a" stroke-width="0.7" />
<line x1="434.75" y1="114.60" x2="442.95" y2="114.60" stroke="#3a3a3a" stroke-width="0.8" />
<line x1="434.75" y1="135.82" x2="442.95" y2="135.82" stroke="#3a3a3a" stroke-width="0.8" />
<line x1="453.79" y1="109.29" x2="453.79" y2="122.56" stroke="#3a3a3a" stroke-width="0.7" />
<line x1="449.69" y1="109.29" x2="457.89" y2="109.29" stroke="#3a3a3a" stroke-width="0.8" />
<line x1="449.69" y1="122.56" x2="457.89" y2="122.56" stroke="#3a3a3a" stroke-width="0.8" />
<line x1="468.72" y1="37.53" x2="468.72" y2="45.49" stroke="#3a3a3a" stroke-width="0.7" />
<line x1="464.62" y1="37.53" x2="472.82" y2="37.53" stroke="#3a3a3a" stroke-width="0.8" />
<line x1="464.62" y1="45.49" x2="472.82" y2="45.49" stroke="#3a3a3a" stroke-width="0.8" />
<line x1="483.66" y1="33.02" x2="483.66" y2="48.94" stroke="#3a3a3a" stroke-width="0.7" />
<line x1="479.56" y1="33.02" x2="487.76" y2="33.02" stroke="#3a3a3a" stroke-width="0.8" />
<line x1="479.56" y1="48.94" x2="487.76" y2="48.94" stroke="#3a3a3a" stroke-width="0.8" />
<line x1="379.10" y1="158.37" x2="379.10" y2="172.30" stroke="#3a3a3a" stroke-width="0.7" />
<line x1="375.00" y1="158.37" x2="383.20" y2="158.37" stroke="#3a3a3a" stroke-width="0.8" />
<line x1="394.04" y1="109.95" x2="394.04" y2="115.26" stroke="#3a3a3a" stroke-width="0.7" />
<line x1="389.94" y1="109.95" x2="398.14" y2="109.95" stroke="#3a3a3a" stroke-width="0.8" />
<line x1="389.94" y1="115.26" x2="398.14" y2="115.26" stroke="#3a3a3a" stroke-width="0.8" />
<line x1="408.97" y1="85.15" x2="408.97" y2="98.41" stroke="#3a3a3a" stroke-width="0.7" />
<line x1="404.87" y1="85.15" x2="413.07" y2="85.15" stroke="#3a3a3a" stroke-width="0.8" />
<line x1="404.87" y1="98.41" x2="413.07" y2="98.41" stroke="#3a3a3a" stroke-width="0.8" />
<line x1="423.91" y1="72.81" x2="423.91" y2="86.08" stroke="#3a3a3a" stroke-width="0.7" />
<line x1="419.81" y1="72.81" x2="428.01" y2="72.81" stroke="#3a3a3a" stroke-width="0.8" />
<line x1="419.81" y1="86.08" x2="428.01" y2="86.08" stroke="#3a3a3a" stroke-width="0.8" />
<line x1="438.85" y1="38.32" x2="438.85" y2="48.94" stroke="#3a3a3a" stroke-width="0.7" />
<line x1="434.75" y1="38.32" x2="442.95" y2="38.32" stroke="#3a3a3a" stroke-width="0.8" />
<line x1="434.75" y1="48.94" x2="442.95" y2="48.94" stroke="#3a3a3a" stroke-width="0.8" />
<line x1="453.79" y1="37.00" x2="453.79" y2="47.61" stroke="#3a3a3a" stroke-width="0.7" />
<line x1="449.69" y1="37.00" x2="457.89" y2="37.00" stroke="#3a3a3a" stroke-width="0.8" />
<line x1="449.69" y1="47.61" x2="457.89" y2="47.61" stroke="#3a3a3a" stroke-width="0.8" />
<line x1="468.72" y1="42.30" x2="468.72" y2="52.92" stroke="#3a3a3a" stroke-width="0.7" />
<line x1="464.62" y1="42.30" x2="472.82" y2="42.30" stroke="#3a3a3a" stroke-width="0.8" />
<line x1="464.62" y1="52.92" x2="472.82" y2="52.92" stroke="#3a3a3a" stroke-width="0.8" />
<line x1="483.66" y1="42.30" x2="483.66" y2="52.92" stroke="#3a3a3a" stroke-width="0.7" />
<line x1="479.56" y1="42.30" x2="487.76" y2="42.30" stroke="#3a3a3a" stroke-width="0.8" />
<line x1="479.56" y1="52.92" x2="487.76" y2="52.92" stroke="#3a3a3a" stroke-width="0.8" />
<polygon points="379.10,164.28 383.14,168.32 379.10,172.36 375.06,168.32" fill="#fdb913" stroke="#2b2f3a" stroke-width="0.8"/>
<polygon points="394.04,135.76 398.08,139.80 394.04,143.84 390.00,139.80" fill="#fdb913" stroke="#2b2f3a" stroke-width="0.8"/>
<polygon points="408.97,116.79 413.02,120.83 408.97,124.87 404.93,120.83" fill="#fdb913" stroke="#2b2f3a" stroke-width="0.8"/>
<polygon points="423.91,113.21 427.95,117.25 423.91,121.29 419.87,117.25" fill="#fdb913" stroke="#2b2f3a" stroke-width="0.8"/>
<polygon points="438.85,115.73 442.89,119.77 438.85,123.81 434.81,119.77" fill="#fdb913" stroke="#2b2f3a" stroke-width="0.8"/>
<polygon points="453.79,87.61 457.83,91.65 453.79,95.69 449.74,91.65" fill="#fdb913" stroke="#2b2f3a" stroke-width="0.8"/>
<polygon points="468.72,59.49 472.76,63.53 468.72,67.57 464.68,63.53" fill="#fdb913" stroke="#2b2f3a" stroke-width="0.8"/>
<polygon points="483.66,54.18 487.70,58.22 483.66,62.26 479.62,58.22" fill="#fdb913" stroke="#2b2f3a" stroke-width="0.8"/>
<polygon points="379.10,165.78 382.88,173.52 375.32,173.52" fill="#fdb913" stroke="#2b2f3a" stroke-width="0.8" stroke-linejoin="miter"/>
<polygon points="394.04,159.14 397.82,166.88 390.25,166.88" fill="#fdb913" stroke="#2b2f3a" stroke-width="0.8" stroke-linejoin="miter"/>
<polygon points="408.97,157.82 412.76,165.56 405.19,165.56" fill="#fdb913" stroke="#2b2f3a" stroke-width="0.8" stroke-linejoin="miter"/>
<polygon points="423.91,155.96 427.70,163.70 420.13,163.70" fill="#fdb913" stroke="#2b2f3a" stroke-width="0.8" stroke-linejoin="miter"/>
<polygon points="438.85,155.83 442.63,163.57 435.06,163.57" fill="#fdb913" stroke="#2b2f3a" stroke-width="0.8" stroke-linejoin="miter"/>
<polygon points="453.79,59.66 457.57,67.40 450.00,67.40" fill="#fdb913" stroke="#2b2f3a" stroke-width="0.8" stroke-linejoin="miter"/>
<polygon points="468.72,42.41 472.51,50.15 464.94,50.15" fill="#fdb913" stroke="#2b2f3a" stroke-width="0.8" stroke-linejoin="miter"/>
<polygon points="483.66,39.76 487.44,47.50 479.88,47.50" fill="#fdb913" stroke="#2b2f3a" stroke-width="0.8" stroke-linejoin="miter"/>
<circle cx="379.10" cy="170.31" r="4.30" fill="#fdb913" stroke="#2b2f3a" stroke-width="0.8"/>
<circle cx="394.04" cy="164.34" r="4.30" fill="#fdb913" stroke="#2b2f3a" stroke-width="0.8"/>
<circle cx="408.97" cy="86.74" r="4.30" fill="#fdb913" stroke="#2b2f3a" stroke-width="0.8"/>
<circle cx="423.91" cy="40.98" r="4.30" fill="#fdb913" stroke="#2b2f3a" stroke-width="0.8"/>
<circle cx="438.85" cy="58.22" r="4.30" fill="#fdb913" stroke="#2b2f3a" stroke-width="0.8"/>
<circle cx="453.79" cy="50.93" r="4.30" fill="#fdb913" stroke="#2b2f3a" stroke-width="0.8"/>
<circle cx="468.72" cy="63.53" r="4.30" fill="#fdb913" stroke="#2b2f3a" stroke-width="0.8"/>
<circle cx="483.66" cy="59.55" r="4.30" fill="#fdb913" stroke="#2b2f3a" stroke-width="0.8"/>
<polygon points="379.10,165.61 383.14,169.65 379.10,173.69 375.06,169.65" fill="#1f5a9e" stroke="#2b2f3a" stroke-width="0.8"/>
<polygon points="394.04,156.32 398.08,160.36 394.04,164.40 390.00,160.36" fill="#1f5a9e" stroke="#2b2f3a" stroke-width="0.8"/>
<polygon points="408.97,154.99 413.02,159.04 408.97,163.08 404.93,159.04" fill="#1f5a9e" stroke="#2b2f3a" stroke-width="0.8"/>
<polygon points="423.91,113.21 427.95,117.25 423.91,121.29 419.87,117.25" fill="#1f5a9e" stroke="#2b2f3a" stroke-width="0.8"/>
<polygon points="438.85,93.05 442.89,97.09 438.85,101.13 434.81,97.09" fill="#1f5a9e" stroke="#2b2f3a" stroke-width="0.8"/>
<polygon points="453.79,70.36 457.83,74.40 453.79,78.45 449.74,74.40" fill="#1f5a9e" stroke="#2b2f3a" stroke-width="0.8"/>
<polygon points="468.72,48.87 472.76,52.92 468.72,56.96 464.68,52.92" fill="#1f5a9e" stroke="#2b2f3a" stroke-width="0.8"/>
<polygon points="483.66,59.75 487.70,63.79 483.66,67.83 479.62,63.79" fill="#1f5a9e" stroke="#2b2f3a" stroke-width="0.8"/>
<rect x="374.93" y="164.15" width="8.34" height="8.34" fill="#fdb913" stroke="#2b2f3a" stroke-width="0.8"/>
<rect x="389.87" y="150.88" width="8.34" height="8.34" fill="#fdb913" stroke="#2b2f3a" stroke-width="0.8"/>
<rect x="404.80" y="155.53" width="8.34" height="8.34" fill="#fdb913" stroke="#2b2f3a" stroke-width="0.8"/>
<rect x="419.74" y="90.13" width="8.34" height="8.34" fill="#fdb913" stroke="#2b2f3a" stroke-width="0.8"/>
<rect x="434.68" y="88.41" width="8.34" height="8.34" fill="#fdb913" stroke="#2b2f3a" stroke-width="0.8"/>
<rect x="449.61" y="73.02" width="8.34" height="8.34" fill="#fdb913" stroke="#2b2f3a" stroke-width="0.8"/>
<rect x="464.55" y="38.13" width="8.34" height="8.34" fill="#fdb913" stroke="#2b2f3a" stroke-width="0.8"/>
<rect x="479.49" y="36.81" width="8.34" height="8.34" fill="#fdb913" stroke="#2b2f3a" stroke-width="0.8"/>
<rect x="374.93" y="42.11" width="8.34" height="8.34" fill="#1f5a9e" stroke="#2b2f3a" stroke-width="0.8"/>
<rect x="389.87" y="43.97" width="8.34" height="8.34" fill="#1f5a9e" stroke="#2b2f3a" stroke-width="0.8"/>
<rect x="404.80" y="47.02" width="8.34" height="8.34" fill="#1f5a9e" stroke="#2b2f3a" stroke-width="0.8"/>
<rect x="419.74" y="44.50" width="8.34" height="8.34" fill="#1f5a9e" stroke="#2b2f3a" stroke-width="0.8"/>
<rect x="434.68" y="47.42" width="8.34" height="8.34" fill="#1f5a9e" stroke="#2b2f3a" stroke-width="0.8"/>
<rect x="449.61" y="50.87" width="8.34" height="8.34" fill="#1f5a9e" stroke="#2b2f3a" stroke-width="0.8"/>
<rect x="464.55" y="51.40" width="8.34" height="8.34" fill="#1f5a9e" stroke="#2b2f3a" stroke-width="0.8"/>
<rect x="479.49" y="48.74" width="8.34" height="8.34" fill="#1f5a9e" stroke="#2b2f3a" stroke-width="0.8"/>
<polygon points="379.10,164.45 382.88,172.19 375.32,172.19" fill="#1f5a9e" stroke="#2b2f3a" stroke-width="0.8" stroke-linejoin="miter"/>
<polygon points="394.04,153.84 397.82,161.58 390.25,161.58" fill="#1f5a9e" stroke="#2b2f3a" stroke-width="0.8" stroke-linejoin="miter"/>
<polygon points="408.97,159.54 412.76,167.28 405.19,167.28" fill="#1f5a9e" stroke="#2b2f3a" stroke-width="0.8" stroke-linejoin="miter"/>
<polygon points="423.91,166.44 427.70,174.18 420.13,174.18" fill="#1f5a9e" stroke="#2b2f3a" stroke-width="0.8" stroke-linejoin="miter"/>
<polygon points="438.85,121.34 442.63,129.08 435.06,129.08" fill="#1f5a9e" stroke="#2b2f3a" stroke-width="0.8" stroke-linejoin="miter"/>
<polygon points="453.79,112.05 457.57,119.79 450.00,119.79" fill="#1f5a9e" stroke="#2b2f3a" stroke-width="0.8" stroke-linejoin="miter"/>
<polygon points="468.72,37.64 472.51,45.38 464.94,45.38" fill="#1f5a9e" stroke="#2b2f3a" stroke-width="0.8" stroke-linejoin="miter"/>
<polygon points="483.66,37.11 487.44,44.85 479.88,44.85" fill="#1f5a9e" stroke="#2b2f3a" stroke-width="0.8" stroke-linejoin="miter"/>
<circle cx="379.10" cy="168.98" r="4.30" fill="#1f5a9e" stroke="#2b2f3a" stroke-width="0.8"/>
<circle cx="394.04" cy="112.61" r="4.30" fill="#1f5a9e" stroke="#2b2f3a" stroke-width="0.8"/>
<circle cx="408.97" cy="91.78" r="4.30" fill="#1f5a9e" stroke="#2b2f3a" stroke-width="0.8"/>
<circle cx="423.91" cy="79.45" r="4.30" fill="#1f5a9e" stroke="#2b2f3a" stroke-width="0.8"/>
<circle cx="438.85" cy="43.63" r="4.30" fill="#1f5a9e" stroke="#2b2f3a" stroke-width="0.8"/>
<circle cx="453.79" cy="42.30" r="4.30" fill="#1f5a9e" stroke="#2b2f3a" stroke-width="0.8"/>
<circle cx="468.72" cy="47.61" r="4.30" fill="#1f5a9e" stroke="#2b2f3a" stroke-width="0.8"/>
<circle cx="483.66" cy="47.61" r="4.30" fill="#1f5a9e" stroke="#2b2f3a" stroke-width="0.8"/>
<line x1="10.30" y1="236.60" x2="544.60" y2="236.60" stroke="#111" stroke-width="1.3" />
<line x1="10.30" y1="272.70" x2="544.60" y2="272.70" stroke="#222" stroke-width="1.0" />
<line x1="10.30" y1="405.20" x2="544.60" y2="405.20" stroke="#111" stroke-width="1.3" />
<text x="85.50" y="251.90" font-size="12" text-anchor="start" fill="#231f20" >Drug / Formulation</text>
<text x="343.9" y="251.9" font-size="12.5" fill="#231f20">CC<tspan font-size="8.4" dx="0.5" letter-spacing="-0.5">50</tspan></text>
<text x="344.20" y="266.20" font-size="12.4" text-anchor="start" fill="#231f20" >(µM)</text>
<text x="420.5" y="251.9" font-size="12.5" fill="#231f20">EC<tspan font-size="8.4" dx="0.5" letter-spacing="-0.5">50</tspan></text>
<text x="420.80" y="266.20" font-size="12.4" text-anchor="start" fill="#231f20" >(µM)</text>
<text x="508.40" y="251.90" font-size="12" text-anchor="middle" fill="#231f20" >Selectivity</text>
<text x="508.40" y="266.00" font-size="12" text-anchor="middle" fill="#231f20" >Index</text>
<circle cx="23.60" cy="288.40" r="4.80" fill="#1f5a9e" stroke="#2b2f3a" stroke-width="0.8"/>
<text x="35.40" y="292.90" font-size="12.13" text-anchor="start" fill="#231f20" >Remdesivir</text>
<text x="342.60" y="292.90" font-size="12.2" text-anchor="start" fill="#231f20" >&gt;100</text>
<text x="445.30" y="292.90" font-size="12.2" text-anchor="end" fill="#231f20" >2.45</text>
<text x="523.80" y="292.90" font-size="12.2" text-anchor="end" fill="#231f20" >&gt;40.81</text>
<polygon points="23.60,298.83 27.82,307.47 19.38,307.47" fill="#1f5a9e" stroke="#2b2f3a" stroke-width="0.8" stroke-linejoin="miter"/>
<text x="35.40" y="307.65" font-size="12.13" text-anchor="start" fill="#231f20" >Ebselen</text>
<text x="342.60" y="307.65" font-size="12.2" text-anchor="start" fill="#231f20" >&gt;100</text>
<text x="445.30" y="307.65" font-size="12.2" text-anchor="end" fill="#231f20" >21.86</text>
<text x="523.80" y="307.65" font-size="12.2" text-anchor="end" fill="#231f20" >&gt;4.57</text>
<rect x="19.28" y="313.58" width="8.64" height="8.64" fill="#1f5a9e" stroke="#2b2f3a" stroke-width="0.8"/>
<text x="35.40" y="322.40" font-size="12.13" text-anchor="start" fill="#231f20" >L-leucine</text>
<text x="342.60" y="322.40" font-size="12.2" text-anchor="start" fill="#231f20" >&gt;100</text>
<text x="445.30" y="322.40" font-size="12.2" text-anchor="end" fill="#231f20" >&gt;100</text>
<text x="523.80" y="322.40" font-size="12.2" text-anchor="end" fill="#231f20" >1</text>
<polygon points="23.60,328.14 28.11,332.65 23.60,337.16 19.09,332.65" fill="#1f5a9e" stroke="#2b2f3a" stroke-width="0.8"/>
<text x="35.40" y="337.15" font-size="12.13" text-anchor="start" fill="#231f20" >Remdesivir-Ebselen</text>
<text x="342.60" y="337.15" font-size="12.2" text-anchor="start" fill="#231f20" >&gt;100</text>
<text x="445.30" y="337.15" font-size="12.2" text-anchor="end" fill="#231f20" >7.84</text>
<text x="523.80" y="337.15" font-size="12.2" text-anchor="end" fill="#231f20" >12.75</text>
<circle cx="23.60" cy="347.40" r="4.80" fill="#fdb913" stroke="#2b2f3a" stroke-width="0.8"/>
<text x="35.40" y="351.90" font-size="12.13" text-anchor="start" fill="#231f20" >Spray-dried Remdesivir</text>
<text x="342.60" y="351.90" font-size="12.2" text-anchor="start" fill="#231f20" >&gt;100</text>
<text x="445.30" y="351.90" font-size="12.2" text-anchor="end" fill="#231f20" >2.77</text>
<text x="523.80" y="351.90" font-size="12.2" text-anchor="end" fill="#231f20" >&gt;36.10</text>
<polygon points="23.60,357.83 27.82,366.47 19.38,366.47" fill="#fdb913" stroke="#2b2f3a" stroke-width="0.8" stroke-linejoin="miter"/>
<text x="35.40" y="366.65" font-size="12.13" text-anchor="start" fill="#231f20" >Spray-dried Ebselen</text>
<text x="342.60" y="366.65" font-size="12.2" text-anchor="start" fill="#231f20" >&gt;100</text>
<text x="445.30" y="366.65" font-size="12.2" text-anchor="end" fill="#231f20" >18.64</text>
<text x="523.80" y="366.65" font-size="12.2" text-anchor="end" fill="#231f20" >&gt;5.36</text>
<rect x="19.28" y="372.58" width="8.64" height="8.64" fill="#fdb913" stroke="#2b2f3a" stroke-width="0.8"/>
<text x="35.40" y="381.40" font-size="12.13" text-anchor="start" fill="#231f20" >Spray-dried Remdesivir-Ebselen combination</text>
<text x="342.60" y="381.40" font-size="12.2" text-anchor="start" fill="#231f20" >&gt;100</text>
<text x="445.30" y="381.40" font-size="12.2" text-anchor="end" fill="#231f20" >8.04</text>
<text x="523.80" y="381.40" font-size="12.2" text-anchor="end" fill="#231f20" >&gt;12.43</text>
<polygon points="23.60,387.14 28.11,391.65 23.60,396.16 19.09,391.65" fill="#fdb913" stroke="#2b2f3a" stroke-width="0.8"/>
<text x="35.40" y="396.15" font-size="12.13" text-anchor="start" fill="#231f20" >Spray-dried Remdesivir-Ebselen-L-leucine combination</text>
<text x="342.60" y="396.15" font-size="12.2" text-anchor="start" fill="#231f20" >&gt;100</text>
<text x="445.30" y="396.15" font-size="12.2" text-anchor="end" fill="#231f20" >8.47</text>
<text x="523.80" y="396.15" font-size="12.2" text-anchor="end" fill="#231f20" >&gt;11.80</text>
</svg></body></html>
